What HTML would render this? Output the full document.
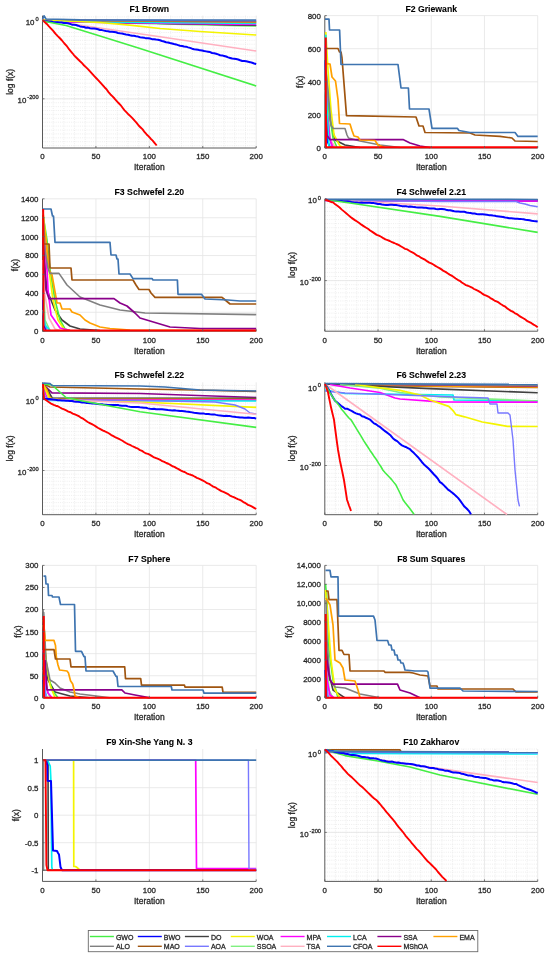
<!DOCTYPE html>
<html><head><meta charset="utf-8"><style>
html,body{margin:0;padding:0;background:#fff;width:550px;height:958px;overflow:hidden}
svg{display:block;will-change:transform}
text{font-family:"Liberation Sans", sans-serif;stroke:#262626;stroke-width:0.28px}
</style></head><body>
<svg width="550" height="958" viewBox="0 0 550 958">
<rect x="0" y="0" width="550" height="958" fill="#ffffff"/>
<line x1="53.19" y1="15.6" x2="53.19" y2="148" stroke="#e2e2e2" stroke-width="0.6" stroke-dasharray="1,1.2"/>
<line x1="63.87" y1="15.6" x2="63.87" y2="148" stroke="#e2e2e2" stroke-width="0.6" stroke-dasharray="1,1.2"/>
<line x1="74.55" y1="15.6" x2="74.55" y2="148" stroke="#e2e2e2" stroke-width="0.6" stroke-dasharray="1,1.2"/>
<line x1="85.24" y1="15.6" x2="85.24" y2="148" stroke="#e2e2e2" stroke-width="0.6" stroke-dasharray="1,1.2"/>
<line x1="106.61" y1="15.6" x2="106.61" y2="148" stroke="#e2e2e2" stroke-width="0.6" stroke-dasharray="1,1.2"/>
<line x1="117.29" y1="15.6" x2="117.29" y2="148" stroke="#e2e2e2" stroke-width="0.6" stroke-dasharray="1,1.2"/>
<line x1="127.98" y1="15.6" x2="127.98" y2="148" stroke="#e2e2e2" stroke-width="0.6" stroke-dasharray="1,1.2"/>
<line x1="138.66" y1="15.6" x2="138.66" y2="148" stroke="#e2e2e2" stroke-width="0.6" stroke-dasharray="1,1.2"/>
<line x1="160.03" y1="15.6" x2="160.03" y2="148" stroke="#e2e2e2" stroke-width="0.6" stroke-dasharray="1,1.2"/>
<line x1="170.72" y1="15.6" x2="170.72" y2="148" stroke="#e2e2e2" stroke-width="0.6" stroke-dasharray="1,1.2"/>
<line x1="181.41" y1="15.6" x2="181.41" y2="148" stroke="#e2e2e2" stroke-width="0.6" stroke-dasharray="1,1.2"/>
<line x1="192.09" y1="15.6" x2="192.09" y2="148" stroke="#e2e2e2" stroke-width="0.6" stroke-dasharray="1,1.2"/>
<line x1="213.46" y1="15.6" x2="213.46" y2="148" stroke="#e2e2e2" stroke-width="0.6" stroke-dasharray="1,1.2"/>
<line x1="224.14" y1="15.6" x2="224.14" y2="148" stroke="#e2e2e2" stroke-width="0.6" stroke-dasharray="1,1.2"/>
<line x1="234.83" y1="15.6" x2="234.83" y2="148" stroke="#e2e2e2" stroke-width="0.6" stroke-dasharray="1,1.2"/>
<line x1="245.51" y1="15.6" x2="245.51" y2="148" stroke="#e2e2e2" stroke-width="0.6" stroke-dasharray="1,1.2"/>
<line x1="42.5" y1="16.9" x2="256.2" y2="16.9" stroke="#e2e2e2" stroke-width="0.6" stroke-dasharray="1,1.2"/>
<line x1="42.5" y1="20.8" x2="256.2" y2="20.8" stroke="#e2e2e2" stroke-width="0.6" stroke-dasharray="1,1.2"/>
<line x1="42.5" y1="24.7" x2="256.2" y2="24.7" stroke="#e2e2e2" stroke-width="0.6" stroke-dasharray="1,1.2"/>
<line x1="42.5" y1="28.6" x2="256.2" y2="28.6" stroke="#e2e2e2" stroke-width="0.6" stroke-dasharray="1,1.2"/>
<line x1="42.5" y1="32.5" x2="256.2" y2="32.5" stroke="#e2e2e2" stroke-width="0.6" stroke-dasharray="1,1.2"/>
<line x1="42.5" y1="36.4" x2="256.2" y2="36.4" stroke="#e2e2e2" stroke-width="0.6" stroke-dasharray="1,1.2"/>
<line x1="42.5" y1="40.3" x2="256.2" y2="40.3" stroke="#e2e2e2" stroke-width="0.6" stroke-dasharray="1,1.2"/>
<line x1="42.5" y1="44.2" x2="256.2" y2="44.2" stroke="#e2e2e2" stroke-width="0.6" stroke-dasharray="1,1.2"/>
<line x1="42.5" y1="48.1" x2="256.2" y2="48.1" stroke="#e2e2e2" stroke-width="0.6" stroke-dasharray="1,1.2"/>
<line x1="42.5" y1="52" x2="256.2" y2="52" stroke="#e2e2e2" stroke-width="0.6" stroke-dasharray="1,1.2"/>
<line x1="42.5" y1="55.9" x2="256.2" y2="55.9" stroke="#e2e2e2" stroke-width="0.6" stroke-dasharray="1,1.2"/>
<line x1="42.5" y1="59.8" x2="256.2" y2="59.8" stroke="#e2e2e2" stroke-width="0.6" stroke-dasharray="1,1.2"/>
<line x1="42.5" y1="63.7" x2="256.2" y2="63.7" stroke="#e2e2e2" stroke-width="0.6" stroke-dasharray="1,1.2"/>
<line x1="42.5" y1="67.6" x2="256.2" y2="67.6" stroke="#e2e2e2" stroke-width="0.6" stroke-dasharray="1,1.2"/>
<line x1="42.5" y1="71.5" x2="256.2" y2="71.5" stroke="#e2e2e2" stroke-width="0.6" stroke-dasharray="1,1.2"/>
<line x1="42.5" y1="75.4" x2="256.2" y2="75.4" stroke="#e2e2e2" stroke-width="0.6" stroke-dasharray="1,1.2"/>
<line x1="42.5" y1="79.3" x2="256.2" y2="79.3" stroke="#e2e2e2" stroke-width="0.6" stroke-dasharray="1,1.2"/>
<line x1="42.5" y1="83.2" x2="256.2" y2="83.2" stroke="#e2e2e2" stroke-width="0.6" stroke-dasharray="1,1.2"/>
<line x1="42.5" y1="87.1" x2="256.2" y2="87.1" stroke="#e2e2e2" stroke-width="0.6" stroke-dasharray="1,1.2"/>
<line x1="42.5" y1="91" x2="256.2" y2="91" stroke="#e2e2e2" stroke-width="0.6" stroke-dasharray="1,1.2"/>
<line x1="42.5" y1="94.9" x2="256.2" y2="94.9" stroke="#e2e2e2" stroke-width="0.6" stroke-dasharray="1,1.2"/>
<line x1="42.5" y1="98.8" x2="256.2" y2="98.8" stroke="#e2e2e2" stroke-width="0.6" stroke-dasharray="1,1.2"/>
<line x1="42.5" y1="102.7" x2="256.2" y2="102.7" stroke="#e2e2e2" stroke-width="0.6" stroke-dasharray="1,1.2"/>
<line x1="42.5" y1="106.6" x2="256.2" y2="106.6" stroke="#e2e2e2" stroke-width="0.6" stroke-dasharray="1,1.2"/>
<line x1="42.5" y1="110.5" x2="256.2" y2="110.5" stroke="#e2e2e2" stroke-width="0.6" stroke-dasharray="1,1.2"/>
<line x1="42.5" y1="114.4" x2="256.2" y2="114.4" stroke="#e2e2e2" stroke-width="0.6" stroke-dasharray="1,1.2"/>
<line x1="42.5" y1="118.3" x2="256.2" y2="118.3" stroke="#e2e2e2" stroke-width="0.6" stroke-dasharray="1,1.2"/>
<line x1="42.5" y1="122.2" x2="256.2" y2="122.2" stroke="#e2e2e2" stroke-width="0.6" stroke-dasharray="1,1.2"/>
<line x1="42.5" y1="126.1" x2="256.2" y2="126.1" stroke="#e2e2e2" stroke-width="0.6" stroke-dasharray="1,1.2"/>
<line x1="42.5" y1="130" x2="256.2" y2="130" stroke="#e2e2e2" stroke-width="0.6" stroke-dasharray="1,1.2"/>
<line x1="42.5" y1="133.9" x2="256.2" y2="133.9" stroke="#e2e2e2" stroke-width="0.6" stroke-dasharray="1,1.2"/>
<line x1="42.5" y1="137.8" x2="256.2" y2="137.8" stroke="#e2e2e2" stroke-width="0.6" stroke-dasharray="1,1.2"/>
<line x1="42.5" y1="141.7" x2="256.2" y2="141.7" stroke="#e2e2e2" stroke-width="0.6" stroke-dasharray="1,1.2"/>
<line x1="42.5" y1="145.6" x2="256.2" y2="145.6" stroke="#e2e2e2" stroke-width="0.6" stroke-dasharray="1,1.2"/>
<line x1="95.92" y1="15.6" x2="95.92" y2="148" stroke="#e4e4e4" stroke-width="0.8"/>
<line x1="149.35" y1="15.6" x2="149.35" y2="148" stroke="#e4e4e4" stroke-width="0.8"/>
<line x1="202.77" y1="15.6" x2="202.77" y2="148" stroke="#e4e4e4" stroke-width="0.8"/>
<line x1="256.2" y1="15.6" x2="256.2" y2="148" stroke="#e4e4e4" stroke-width="0.8"/>
<line x1="42.5" y1="20.8" x2="256.2" y2="20.8" stroke="#e4e4e4" stroke-width="0.8"/>
<line x1="42.5" y1="98.8" x2="256.2" y2="98.8" stroke="#e4e4e4" stroke-width="0.8"/>
<path d="M42.5,15.6 V148 H256.2" fill="none" stroke="#5a5a5a" stroke-width="1"/>
<polyline points="42.5,21 256.2,26.2" fill="none" stroke="#80f080" stroke-width="1.6" stroke-linejoin="round" stroke-linecap="butt"/>
<polyline points="42.5,21 256.2,25.2" fill="none" stroke="#8a008a" stroke-width="1.7" stroke-linejoin="round" stroke-linecap="butt"/>
<polyline points="42.5,21 256.2,25.3" fill="none" stroke="#404040" stroke-width="1.6" stroke-linejoin="round" stroke-linecap="butt"/>
<polyline points="42.5,21 70,21.8 256.2,24.4" fill="none" stroke="#ff00ff" stroke-width="1.7" stroke-linejoin="round" stroke-linecap="butt"/>
<polyline points="42.5,20.5 100,22 256.2,23.4" fill="none" stroke="#00f0f0" stroke-width="1.7" stroke-linejoin="round" stroke-linecap="butt"/>
<polyline points="42.5,20 256.2,22.5" fill="none" stroke="#808080" stroke-width="1.6" stroke-linejoin="round" stroke-linecap="butt"/>
<polyline points="42.5,20 256.2,21.9" fill="none" stroke="#ffa000" stroke-width="1.7" stroke-linejoin="round" stroke-linecap="butt"/>
<polyline points="42.5,20 256.2,21.4" fill="none" stroke="#a05510" stroke-width="1.7" stroke-linejoin="round" stroke-linecap="butt"/>
<polyline points="42.5,20 256.2,20.7" fill="none" stroke="#7878ff" stroke-width="1.4" stroke-linejoin="round" stroke-linecap="butt"/>
<polyline points="42.5,20 100,22.5 132,25.3 160,28.5 200,31.5 256.2,35" fill="none" stroke="#f4f400" stroke-width="1.7" stroke-linejoin="round" stroke-linecap="butt"/>
<polyline points="42.5,21 60,22.2 160,36.7 256.2,51" fill="none" stroke="#ffb0c0" stroke-width="1.6" stroke-linejoin="round" stroke-linecap="butt"/>
<polyline points="42.5,21 44.64,21.1 46.77,21.14 48.91,21.6 51.05,21.56 53.18,21.95 55.32,22.16 57.45,22.16 59.59,22.56 61.73,22.57 63.86,22.94 66,23 68,23.3 70,23.86 72,24.63 74,24.76 76,25.05 78,25.67 80,26.41 82,26.76 84,26.99 86,27.68 88,27.61 90,28.28 92,28.44 94,28.58 96,28.81 98,29.23 100,29.99 102,30.12 104,30.61 106,31.09 108,31.33 110,31.73 112,31.77 114,31.93 116,32.27 118,32.95 120,33.31 122,33.59 124,34.09 126,34.43 128,34.67 130,35.29 132,35.74 134,35.83 136,36.26 138,36.61 140,37.21 142,37.61 144,37.67 146,38.34 148,38.27 150,38.58 152,39.14 154,39.19 156,39.6 158,39.67 160,40.29 162,41.01 164.01,41.5 166.01,42.21 168.02,42.44 170.02,43.04 172.03,43.52 174.03,44 176.03,44.4 178.04,45.1 180.04,45.79 182.05,46.08 184.05,46.58 186.05,46.65 188.06,47.34 190.06,47.91 192.07,48.69 194.07,49.24 196.07,49.39 198.08,49.74 200.08,50.35 202.09,50.46 204.09,51.03 206.1,51.37 208.1,51.73 210.1,52.1 212.11,53.02 214.11,53.31 216.12,53.77 218.12,54.35 220.12,55.22 222.13,55.39 224.13,55.95 226.14,56.55 228.14,57.34 230.15,57.97 232.15,58.57 234.15,58.72 236.16,59.1 238.16,59.49 240.17,60.28 242.17,61.01 244.17,61.08 246.18,61.33 248.18,61.72 250.19,62.15 252.19,62.78 254.2,63.43 256.2,64" fill="none" stroke="#0000ff" stroke-width="2.0" stroke-linejoin="round" stroke-linecap="butt"/>
<polyline points="42.5,21 66,25.5 100,36 140,48.5 256.2,86" fill="none" stroke="#44ee44" stroke-width="1.6" stroke-linejoin="round" stroke-linecap="butt"/>
<polyline points="42.5,19.5 44,15.8 46,19 80,19.8 256.2,20" fill="none" stroke="#3e74b0" stroke-width="1.7" stroke-linejoin="round" stroke-linecap="butt"/>
<polyline points="42.5,20 44.64,22.03 46.79,23.93 48.93,26.3 51.08,28.56 53.22,30.97 55.37,33.61 57.51,35.87 59.66,37.98 61.8,40.22 64.2,43.27 66.6,45.81 69,49.2 71.25,51.85 73.5,54.51 75.75,57.04 78,59.24 80.04,61.26 82.08,63.12 84.12,65.54 86.16,67.41 88.2,69.42 90.23,71.64 92.27,73.83 94.3,76.17 96.33,78.23 98.37,80.32 100.4,82.58 102.43,84.78 104.47,87.21 106.5,89.28 108.51,92.09 110.52,94.45 112.52,96.39 114.53,98.52 116.54,100.76 118.55,103.01 120.56,105.05 122.56,107.75 124.57,110.37 126.58,112.4 128.59,114.53 130.6,116.37 132.6,118.38 134.61,120.67 136.62,122.86 138.63,125.52 140.64,127.47 142.64,129.42 144.65,132.21 146.66,134.44 148.67,136.36 150.68,138.72 152.68,140.61 154.69,143.03 156.7,145.5" fill="none" stroke="#ff0000" stroke-width="1.9" stroke-linejoin="round" stroke-linecap="butt"/>
<line x1="42.5" y1="148" x2="42.5" y2="146" stroke="#5a5a5a" stroke-width="0.8"/>
<text x="42.5" y="159.3" font-size="7.9" text-anchor="middle" fill="#262626">0</text>
<line x1="95.92" y1="148" x2="95.92" y2="146" stroke="#5a5a5a" stroke-width="0.8"/>
<text x="95.92" y="159.3" font-size="7.9" text-anchor="middle" fill="#262626">50</text>
<line x1="149.35" y1="148" x2="149.35" y2="146" stroke="#5a5a5a" stroke-width="0.8"/>
<text x="149.35" y="159.3" font-size="7.9" text-anchor="middle" fill="#262626">100</text>
<line x1="202.77" y1="148" x2="202.77" y2="146" stroke="#5a5a5a" stroke-width="0.8"/>
<text x="202.77" y="159.3" font-size="7.9" text-anchor="middle" fill="#262626">150</text>
<line x1="256.2" y1="148" x2="256.2" y2="146" stroke="#5a5a5a" stroke-width="0.8"/>
<text x="256.2" y="159.3" font-size="7.9" text-anchor="middle" fill="#262626">200</text>
<line x1="42.5" y1="20.8" x2="44.5" y2="20.8" stroke="#5a5a5a" stroke-width="0.8"/>
<text x="38.7" y="25" font-size="7.9" text-anchor="end" fill="#262626">10<tspan font-size="5.7" dx="1" dy="-3.6">0</tspan></text>
<line x1="42.5" y1="98.8" x2="44.5" y2="98.8" stroke="#5a5a5a" stroke-width="0.8"/>
<text x="38.7" y="103" font-size="7.9" text-anchor="end" fill="#262626">10<tspan font-size="5.7" dx="1" dy="-3.6">-200</tspan></text>
<text x="149.35" y="170.4" font-size="8.5" text-anchor="middle" fill="#262626">Iteration</text>
<text x="149.35" y="11.7" font-size="8.7" font-weight="bold" text-anchor="middle" fill="#000" style="stroke:#000;stroke-width:0.08px">F1 Brown</text>
<text transform="translate(12.5,81.8) rotate(-90)" font-size="8.5" text-anchor="middle" fill="#262626">log f(x)</text>
<line x1="378.03" y1="15.6" x2="378.03" y2="148" stroke="#e4e4e4" stroke-width="0.8"/>
<line x1="431.25" y1="15.6" x2="431.25" y2="148" stroke="#e4e4e4" stroke-width="0.8"/>
<line x1="484.48" y1="15.6" x2="484.48" y2="148" stroke="#e4e4e4" stroke-width="0.8"/>
<line x1="537.7" y1="15.6" x2="537.7" y2="148" stroke="#e4e4e4" stroke-width="0.8"/>
<line x1="324.8" y1="148" x2="537.7" y2="148" stroke="#e4e4e4" stroke-width="0.8"/>
<line x1="324.8" y1="114.9" x2="537.7" y2="114.9" stroke="#e4e4e4" stroke-width="0.8"/>
<line x1="324.8" y1="81.8" x2="537.7" y2="81.8" stroke="#e4e4e4" stroke-width="0.8"/>
<line x1="324.8" y1="48.7" x2="537.7" y2="48.7" stroke="#e4e4e4" stroke-width="0.8"/>
<line x1="324.8" y1="15.6" x2="537.7" y2="15.6" stroke="#e4e4e4" stroke-width="0.8"/>
<path d="M324.8,15.6 V148 H537.7" fill="none" stroke="#5a5a5a" stroke-width="1"/>
<polyline points="325.8,80 330,120 335,140 345,145 360,147.5" fill="none" stroke="#404040" stroke-width="1.6" stroke-linejoin="round" stroke-linecap="butt"/>
<polyline points="325.5,80 328,130 332,147.5" fill="none" stroke="#7878ff" stroke-width="1.4" stroke-linejoin="round" stroke-linecap="butt"/>
<polyline points="325.5,70 330,140 335,147.5" fill="none" stroke="#80f080" stroke-width="1.6" stroke-linejoin="round" stroke-linecap="butt"/>
<polyline points="325.5,90 328,135 335,147.5" fill="none" stroke="#ffb0c0" stroke-width="1.6" stroke-linejoin="round" stroke-linecap="butt"/>
<polyline points="325.5,60 327,140 330,147.5" fill="none" stroke="#0000ff" stroke-width="2.0" stroke-linejoin="round" stroke-linecap="butt"/>
<polyline points="325.5,60 329,110 333,138 337,147.5" fill="none" stroke="#44ee44" stroke-width="1.6" stroke-linejoin="round" stroke-linecap="butt"/>
<polyline points="325.5,45 327,110 330,140 333,147.5" fill="none" stroke="#ff00ff" stroke-width="1.7" stroke-linejoin="round" stroke-linecap="butt"/>
<polyline points="325.8,32 328,70 331,110 334,135 340,146 345,147.5" fill="none" stroke="#f4f400" stroke-width="1.7" stroke-linejoin="round" stroke-linecap="butt"/>
<polyline points="325.8,34.7 326.5,100 329,147.5" fill="none" stroke="#00f0f0" stroke-width="1.7" stroke-linejoin="round" stroke-linecap="butt"/>
<polyline points="325.8,70 328,90 331,125 333,128.5 345,128.5 347,135 348.5,138 360,141 380,145 400,147.5" fill="none" stroke="#808080" stroke-width="1.6" stroke-linejoin="round" stroke-linecap="butt"/>
<polyline points="325.8,110 327,135.4 330,139.6 403,139.6 410,143 420,146 430,147.5" fill="none" stroke="#8a008a" stroke-width="1.7" stroke-linejoin="round" stroke-linecap="butt"/>
<polyline points="325.8,64 327,63.6 330,64 332,77 335.5,81 338,99.5 339.5,123.5 350,124 352,130.5 354,136 358,137 360,140 375,140.5 378,145 385,147.5" fill="none" stroke="#ffa000" stroke-width="1.7" stroke-linejoin="round" stroke-linecap="butt"/>
<polyline points="325,48.5 338,48.5 339.5,52 341,52 342,58 346.5,115.6 416,117 419,126 423,126 425,132.5 470,133 475,135 500,136.4 512,138 515,141 537.7,141.5" fill="none" stroke="#a05510" stroke-width="1.7" stroke-linejoin="round" stroke-linecap="butt"/>
<polyline points="325,19.2 329,19.2 329.5,30 339.6,30 341,64.5 398,64.5 401,88 408.4,88 409.5,109 429,109 432,128.4 457.5,128.4 459,130.5 470,132.5 515,132.5 518,136.4 537.7,136.4" fill="none" stroke="#3e74b0" stroke-width="1.7" stroke-linejoin="round" stroke-linecap="butt"/>
<polyline points="325.8,37.5 326,147.2 537.7,147.2" fill="none" stroke="#ff0000" stroke-width="1.9" stroke-linejoin="round" stroke-linecap="butt"/>
<line x1="324.8" y1="148" x2="324.8" y2="146" stroke="#5a5a5a" stroke-width="0.8"/>
<text x="324.8" y="159.3" font-size="7.9" text-anchor="middle" fill="#262626">0</text>
<line x1="378.03" y1="148" x2="378.03" y2="146" stroke="#5a5a5a" stroke-width="0.8"/>
<text x="378.03" y="159.3" font-size="7.9" text-anchor="middle" fill="#262626">50</text>
<line x1="431.25" y1="148" x2="431.25" y2="146" stroke="#5a5a5a" stroke-width="0.8"/>
<text x="431.25" y="159.3" font-size="7.9" text-anchor="middle" fill="#262626">100</text>
<line x1="484.48" y1="148" x2="484.48" y2="146" stroke="#5a5a5a" stroke-width="0.8"/>
<text x="484.48" y="159.3" font-size="7.9" text-anchor="middle" fill="#262626">150</text>
<line x1="537.7" y1="148" x2="537.7" y2="146" stroke="#5a5a5a" stroke-width="0.8"/>
<text x="537.7" y="159.3" font-size="7.9" text-anchor="middle" fill="#262626">200</text>
<line x1="324.8" y1="148" x2="326.8" y2="148" stroke="#5a5a5a" stroke-width="0.8"/>
<text x="320.8" y="150.9" font-size="7.9" text-anchor="end" fill="#262626">0</text>
<line x1="324.8" y1="114.9" x2="326.8" y2="114.9" stroke="#5a5a5a" stroke-width="0.8"/>
<text x="320.8" y="117.8" font-size="7.9" text-anchor="end" fill="#262626">200</text>
<line x1="324.8" y1="81.8" x2="326.8" y2="81.8" stroke="#5a5a5a" stroke-width="0.8"/>
<text x="320.8" y="84.7" font-size="7.9" text-anchor="end" fill="#262626">400</text>
<line x1="324.8" y1="48.7" x2="326.8" y2="48.7" stroke="#5a5a5a" stroke-width="0.8"/>
<text x="320.8" y="51.6" font-size="7.9" text-anchor="end" fill="#262626">600</text>
<line x1="324.8" y1="15.6" x2="326.8" y2="15.6" stroke="#5a5a5a" stroke-width="0.8"/>
<text x="320.8" y="18.5" font-size="7.9" text-anchor="end" fill="#262626">800</text>
<text x="431.25" y="170.4" font-size="8.5" text-anchor="middle" fill="#262626">Iteration</text>
<text x="431.25" y="11.7" font-size="8.7" font-weight="bold" text-anchor="middle" fill="#000" style="stroke:#000;stroke-width:0.08px">F2 Griewank</text>
<text transform="translate(303.3,81.8) rotate(-90)" font-size="8.5" text-anchor="middle" fill="#262626">f(x)</text>
<line x1="95.92" y1="198.8" x2="95.92" y2="331.2" stroke="#e4e4e4" stroke-width="0.8"/>
<line x1="149.35" y1="198.8" x2="149.35" y2="331.2" stroke="#e4e4e4" stroke-width="0.8"/>
<line x1="202.77" y1="198.8" x2="202.77" y2="331.2" stroke="#e4e4e4" stroke-width="0.8"/>
<line x1="256.2" y1="198.8" x2="256.2" y2="331.2" stroke="#e4e4e4" stroke-width="0.8"/>
<line x1="42.5" y1="331.2" x2="256.2" y2="331.2" stroke="#e4e4e4" stroke-width="0.8"/>
<line x1="42.5" y1="312.29" x2="256.2" y2="312.29" stroke="#e4e4e4" stroke-width="0.8"/>
<line x1="42.5" y1="293.37" x2="256.2" y2="293.37" stroke="#e4e4e4" stroke-width="0.8"/>
<line x1="42.5" y1="274.46" x2="256.2" y2="274.46" stroke="#e4e4e4" stroke-width="0.8"/>
<line x1="42.5" y1="255.54" x2="256.2" y2="255.54" stroke="#e4e4e4" stroke-width="0.8"/>
<line x1="42.5" y1="236.63" x2="256.2" y2="236.63" stroke="#e4e4e4" stroke-width="0.8"/>
<line x1="42.5" y1="217.71" x2="256.2" y2="217.71" stroke="#e4e4e4" stroke-width="0.8"/>
<line x1="42.5" y1="198.8" x2="256.2" y2="198.8" stroke="#e4e4e4" stroke-width="0.8"/>
<path d="M42.5,198.8 V331.2 H256.2" fill="none" stroke="#5a5a5a" stroke-width="1"/>
<polyline points="43,300 44,325 46,330.5" fill="none" stroke="#0000ff" stroke-width="2.0" stroke-linejoin="round" stroke-linecap="butt"/>
<polyline points="43,280 44,320 47,330.5" fill="none" stroke="#7878ff" stroke-width="1.4" stroke-linejoin="round" stroke-linecap="butt"/>
<polyline points="43,270 45,320 50,330.5" fill="none" stroke="#80f080" stroke-width="1.6" stroke-linejoin="round" stroke-linecap="butt"/>
<polyline points="43,260 44,290 49,318 55,329 60,330.5" fill="none" stroke="#ffb0c0" stroke-width="1.6" stroke-linejoin="round" stroke-linecap="butt"/>
<polyline points="43,310 45,325 50,330.5" fill="none" stroke="#00f0f0" stroke-width="1.7" stroke-linejoin="round" stroke-linecap="butt"/>
<polyline points="43,230 45,270 47,290 55,310 62,320 70,326 80,329 100,330.5" fill="none" stroke="#404040" stroke-width="1.6" stroke-linejoin="round" stroke-linecap="butt"/>
<polyline points="43,215 47,240 50,270 55,300 60,320 65,329 70,330.5" fill="none" stroke="#44ee44" stroke-width="1.6" stroke-linejoin="round" stroke-linecap="butt"/>
<polyline points="43,212 46,240 49,270 53,300 58,320 64,329 70,330.5" fill="none" stroke="#f4f400" stroke-width="1.7" stroke-linejoin="round" stroke-linecap="butt"/>
<polyline points="43,220 46,260 47,270 48,290 51,315 60,328 70,330.5" fill="none" stroke="#ff00ff" stroke-width="1.7" stroke-linejoin="round" stroke-linecap="butt"/>
<polyline points="43,220 46,240 49,270 52,275 57,303 60,303 62,309 70,309 72,312 80,315 85,320 90,323 100,327 110,328.5 130,330 256.2,330.5" fill="none" stroke="#ffa000" stroke-width="1.7" stroke-linejoin="round" stroke-linecap="butt"/>
<polyline points="43,210 45,250 48,268 50,273.4 59,273.4 67,285 80,297 100,305 120,310 145,313 256.2,314.6" fill="none" stroke="#808080" stroke-width="1.6" stroke-linejoin="round" stroke-linecap="butt"/>
<polyline points="43,240 46,290 49,298.6 114,298.6 120,303 127,306 135,313 140,318 150,321 170,327 200,328.5 256.2,328.6" fill="none" stroke="#8a008a" stroke-width="1.7" stroke-linejoin="round" stroke-linecap="butt"/>
<polyline points="43,215 43.5,244 49,244 50,268 71,268 72,280 133,280 136,285 139,289.5 149,289.5 151,293 155,297.3 222,297.3 224,299 230,304 256.2,304" fill="none" stroke="#a05510" stroke-width="1.7" stroke-linejoin="round" stroke-linecap="butt"/>
<polyline points="42.5,209 51,209 52.5,216 53.5,216 55,242.4 110,242.4 111,255 116,255 117,259 118,259 119,274 130,274 133,278.6 152,278.6 153,280 177.4,280 178,294.3 201.5,294.3 205,299 228,300 240,301 256.2,301" fill="none" stroke="#3e74b0" stroke-width="1.7" stroke-linejoin="round" stroke-linecap="butt"/>
<polyline points="43.2,209 43.6,330.5 256.2,330.5" fill="none" stroke="#ff0000" stroke-width="1.9" stroke-linejoin="round" stroke-linecap="butt"/>
<line x1="42.5" y1="331.2" x2="42.5" y2="329.2" stroke="#5a5a5a" stroke-width="0.8"/>
<text x="42.5" y="342.5" font-size="7.9" text-anchor="middle" fill="#262626">0</text>
<line x1="95.92" y1="331.2" x2="95.92" y2="329.2" stroke="#5a5a5a" stroke-width="0.8"/>
<text x="95.92" y="342.5" font-size="7.9" text-anchor="middle" fill="#262626">50</text>
<line x1="149.35" y1="331.2" x2="149.35" y2="329.2" stroke="#5a5a5a" stroke-width="0.8"/>
<text x="149.35" y="342.5" font-size="7.9" text-anchor="middle" fill="#262626">100</text>
<line x1="202.77" y1="331.2" x2="202.77" y2="329.2" stroke="#5a5a5a" stroke-width="0.8"/>
<text x="202.77" y="342.5" font-size="7.9" text-anchor="middle" fill="#262626">150</text>
<line x1="256.2" y1="331.2" x2="256.2" y2="329.2" stroke="#5a5a5a" stroke-width="0.8"/>
<text x="256.2" y="342.5" font-size="7.9" text-anchor="middle" fill="#262626">200</text>
<line x1="42.5" y1="331.2" x2="44.5" y2="331.2" stroke="#5a5a5a" stroke-width="0.8"/>
<text x="38.5" y="334.1" font-size="7.9" text-anchor="end" fill="#262626">0</text>
<line x1="42.5" y1="312.29" x2="44.5" y2="312.29" stroke="#5a5a5a" stroke-width="0.8"/>
<text x="38.5" y="315.19" font-size="7.9" text-anchor="end" fill="#262626">200</text>
<line x1="42.5" y1="293.37" x2="44.5" y2="293.37" stroke="#5a5a5a" stroke-width="0.8"/>
<text x="38.5" y="296.27" font-size="7.9" text-anchor="end" fill="#262626">400</text>
<line x1="42.5" y1="274.46" x2="44.5" y2="274.46" stroke="#5a5a5a" stroke-width="0.8"/>
<text x="38.5" y="277.36" font-size="7.9" text-anchor="end" fill="#262626">600</text>
<line x1="42.5" y1="255.54" x2="44.5" y2="255.54" stroke="#5a5a5a" stroke-width="0.8"/>
<text x="38.5" y="258.44" font-size="7.9" text-anchor="end" fill="#262626">800</text>
<line x1="42.5" y1="236.63" x2="44.5" y2="236.63" stroke="#5a5a5a" stroke-width="0.8"/>
<text x="38.5" y="239.53" font-size="7.9" text-anchor="end" fill="#262626">1000</text>
<line x1="42.5" y1="217.71" x2="44.5" y2="217.71" stroke="#5a5a5a" stroke-width="0.8"/>
<text x="38.5" y="220.61" font-size="7.9" text-anchor="end" fill="#262626">1200</text>
<line x1="42.5" y1="198.8" x2="44.5" y2="198.8" stroke="#5a5a5a" stroke-width="0.8"/>
<text x="38.5" y="201.7" font-size="7.9" text-anchor="end" fill="#262626">1400</text>
<text x="149.35" y="353.6" font-size="8.5" text-anchor="middle" fill="#262626">Iteration</text>
<text x="149.35" y="194.9" font-size="8.7" font-weight="bold" text-anchor="middle" fill="#000" style="stroke:#000;stroke-width:0.08px">F3 Schwefel 2.20</text>
<text transform="translate(17.8,265) rotate(-90)" font-size="8.5" text-anchor="middle" fill="#262626">f(x)</text>
<line x1="335.44" y1="198.8" x2="335.44" y2="331.2" stroke="#e2e2e2" stroke-width="0.6" stroke-dasharray="1,1.2"/>
<line x1="346.09" y1="198.8" x2="346.09" y2="331.2" stroke="#e2e2e2" stroke-width="0.6" stroke-dasharray="1,1.2"/>
<line x1="356.74" y1="198.8" x2="356.74" y2="331.2" stroke="#e2e2e2" stroke-width="0.6" stroke-dasharray="1,1.2"/>
<line x1="367.38" y1="198.8" x2="367.38" y2="331.2" stroke="#e2e2e2" stroke-width="0.6" stroke-dasharray="1,1.2"/>
<line x1="388.67" y1="198.8" x2="388.67" y2="331.2" stroke="#e2e2e2" stroke-width="0.6" stroke-dasharray="1,1.2"/>
<line x1="399.32" y1="198.8" x2="399.32" y2="331.2" stroke="#e2e2e2" stroke-width="0.6" stroke-dasharray="1,1.2"/>
<line x1="409.96" y1="198.8" x2="409.96" y2="331.2" stroke="#e2e2e2" stroke-width="0.6" stroke-dasharray="1,1.2"/>
<line x1="420.61" y1="198.8" x2="420.61" y2="331.2" stroke="#e2e2e2" stroke-width="0.6" stroke-dasharray="1,1.2"/>
<line x1="441.9" y1="198.8" x2="441.9" y2="331.2" stroke="#e2e2e2" stroke-width="0.6" stroke-dasharray="1,1.2"/>
<line x1="452.54" y1="198.8" x2="452.54" y2="331.2" stroke="#e2e2e2" stroke-width="0.6" stroke-dasharray="1,1.2"/>
<line x1="463.19" y1="198.8" x2="463.19" y2="331.2" stroke="#e2e2e2" stroke-width="0.6" stroke-dasharray="1,1.2"/>
<line x1="473.83" y1="198.8" x2="473.83" y2="331.2" stroke="#e2e2e2" stroke-width="0.6" stroke-dasharray="1,1.2"/>
<line x1="495.12" y1="198.8" x2="495.12" y2="331.2" stroke="#e2e2e2" stroke-width="0.6" stroke-dasharray="1,1.2"/>
<line x1="505.77" y1="198.8" x2="505.77" y2="331.2" stroke="#e2e2e2" stroke-width="0.6" stroke-dasharray="1,1.2"/>
<line x1="516.41" y1="198.8" x2="516.41" y2="331.2" stroke="#e2e2e2" stroke-width="0.6" stroke-dasharray="1,1.2"/>
<line x1="527.06" y1="198.8" x2="527.06" y2="331.2" stroke="#e2e2e2" stroke-width="0.6" stroke-dasharray="1,1.2"/>
<line x1="324.8" y1="199.2" x2="537.7" y2="199.2" stroke="#e2e2e2" stroke-width="0.6" stroke-dasharray="1,1.2"/>
<line x1="324.8" y1="203.27" x2="537.7" y2="203.27" stroke="#e2e2e2" stroke-width="0.6" stroke-dasharray="1,1.2"/>
<line x1="324.8" y1="207.34" x2="537.7" y2="207.34" stroke="#e2e2e2" stroke-width="0.6" stroke-dasharray="1,1.2"/>
<line x1="324.8" y1="211.41" x2="537.7" y2="211.41" stroke="#e2e2e2" stroke-width="0.6" stroke-dasharray="1,1.2"/>
<line x1="324.8" y1="215.48" x2="537.7" y2="215.48" stroke="#e2e2e2" stroke-width="0.6" stroke-dasharray="1,1.2"/>
<line x1="324.8" y1="219.55" x2="537.7" y2="219.55" stroke="#e2e2e2" stroke-width="0.6" stroke-dasharray="1,1.2"/>
<line x1="324.8" y1="223.62" x2="537.7" y2="223.62" stroke="#e2e2e2" stroke-width="0.6" stroke-dasharray="1,1.2"/>
<line x1="324.8" y1="227.69" x2="537.7" y2="227.69" stroke="#e2e2e2" stroke-width="0.6" stroke-dasharray="1,1.2"/>
<line x1="324.8" y1="231.76" x2="537.7" y2="231.76" stroke="#e2e2e2" stroke-width="0.6" stroke-dasharray="1,1.2"/>
<line x1="324.8" y1="235.83" x2="537.7" y2="235.83" stroke="#e2e2e2" stroke-width="0.6" stroke-dasharray="1,1.2"/>
<line x1="324.8" y1="239.9" x2="537.7" y2="239.9" stroke="#e2e2e2" stroke-width="0.6" stroke-dasharray="1,1.2"/>
<line x1="324.8" y1="243.97" x2="537.7" y2="243.97" stroke="#e2e2e2" stroke-width="0.6" stroke-dasharray="1,1.2"/>
<line x1="324.8" y1="248.04" x2="537.7" y2="248.04" stroke="#e2e2e2" stroke-width="0.6" stroke-dasharray="1,1.2"/>
<line x1="324.8" y1="252.11" x2="537.7" y2="252.11" stroke="#e2e2e2" stroke-width="0.6" stroke-dasharray="1,1.2"/>
<line x1="324.8" y1="256.18" x2="537.7" y2="256.18" stroke="#e2e2e2" stroke-width="0.6" stroke-dasharray="1,1.2"/>
<line x1="324.8" y1="260.25" x2="537.7" y2="260.25" stroke="#e2e2e2" stroke-width="0.6" stroke-dasharray="1,1.2"/>
<line x1="324.8" y1="264.32" x2="537.7" y2="264.32" stroke="#e2e2e2" stroke-width="0.6" stroke-dasharray="1,1.2"/>
<line x1="324.8" y1="268.39" x2="537.7" y2="268.39" stroke="#e2e2e2" stroke-width="0.6" stroke-dasharray="1,1.2"/>
<line x1="324.8" y1="272.46" x2="537.7" y2="272.46" stroke="#e2e2e2" stroke-width="0.6" stroke-dasharray="1,1.2"/>
<line x1="324.8" y1="276.53" x2="537.7" y2="276.53" stroke="#e2e2e2" stroke-width="0.6" stroke-dasharray="1,1.2"/>
<line x1="324.8" y1="280.6" x2="537.7" y2="280.6" stroke="#e2e2e2" stroke-width="0.6" stroke-dasharray="1,1.2"/>
<line x1="324.8" y1="284.67" x2="537.7" y2="284.67" stroke="#e2e2e2" stroke-width="0.6" stroke-dasharray="1,1.2"/>
<line x1="324.8" y1="288.74" x2="537.7" y2="288.74" stroke="#e2e2e2" stroke-width="0.6" stroke-dasharray="1,1.2"/>
<line x1="324.8" y1="292.81" x2="537.7" y2="292.81" stroke="#e2e2e2" stroke-width="0.6" stroke-dasharray="1,1.2"/>
<line x1="324.8" y1="296.88" x2="537.7" y2="296.88" stroke="#e2e2e2" stroke-width="0.6" stroke-dasharray="1,1.2"/>
<line x1="324.8" y1="300.95" x2="537.7" y2="300.95" stroke="#e2e2e2" stroke-width="0.6" stroke-dasharray="1,1.2"/>
<line x1="324.8" y1="305.02" x2="537.7" y2="305.02" stroke="#e2e2e2" stroke-width="0.6" stroke-dasharray="1,1.2"/>
<line x1="324.8" y1="309.09" x2="537.7" y2="309.09" stroke="#e2e2e2" stroke-width="0.6" stroke-dasharray="1,1.2"/>
<line x1="324.8" y1="313.16" x2="537.7" y2="313.16" stroke="#e2e2e2" stroke-width="0.6" stroke-dasharray="1,1.2"/>
<line x1="324.8" y1="317.23" x2="537.7" y2="317.23" stroke="#e2e2e2" stroke-width="0.6" stroke-dasharray="1,1.2"/>
<line x1="324.8" y1="321.3" x2="537.7" y2="321.3" stroke="#e2e2e2" stroke-width="0.6" stroke-dasharray="1,1.2"/>
<line x1="324.8" y1="325.37" x2="537.7" y2="325.37" stroke="#e2e2e2" stroke-width="0.6" stroke-dasharray="1,1.2"/>
<line x1="324.8" y1="329.44" x2="537.7" y2="329.44" stroke="#e2e2e2" stroke-width="0.6" stroke-dasharray="1,1.2"/>
<line x1="378.03" y1="198.8" x2="378.03" y2="331.2" stroke="#e4e4e4" stroke-width="0.8"/>
<line x1="431.25" y1="198.8" x2="431.25" y2="331.2" stroke="#e4e4e4" stroke-width="0.8"/>
<line x1="484.48" y1="198.8" x2="484.48" y2="331.2" stroke="#e4e4e4" stroke-width="0.8"/>
<line x1="537.7" y1="198.8" x2="537.7" y2="331.2" stroke="#e4e4e4" stroke-width="0.8"/>
<line x1="324.8" y1="199.2" x2="537.7" y2="199.2" stroke="#e4e4e4" stroke-width="0.8"/>
<line x1="324.8" y1="280.6" x2="537.7" y2="280.6" stroke="#e4e4e4" stroke-width="0.8"/>
<path d="M324.8,198.8 V331.2 H537.7" fill="none" stroke="#5a5a5a" stroke-width="1"/>
<polyline points="325,199.8 537.7,200" fill="none" stroke="#a05510" stroke-width="1.7" stroke-linejoin="round" stroke-linecap="butt"/>
<polyline points="325,199.8 537.7,200.2" fill="none" stroke="#808080" stroke-width="1.6" stroke-linejoin="round" stroke-linecap="butt"/>
<polyline points="325,199.8 537.7,200.2" fill="none" stroke="#404040" stroke-width="1.6" stroke-linejoin="round" stroke-linecap="butt"/>
<polyline points="325,200 515,200.3 537.7,200.8" fill="none" stroke="#00f0f0" stroke-width="1.7" stroke-linejoin="round" stroke-linecap="butt"/>
<polyline points="325,200.5 537.7,201" fill="none" stroke="#8a008a" stroke-width="1.7" stroke-linejoin="round" stroke-linecap="butt"/>
<polyline points="325,200.5 537.7,201" fill="none" stroke="#ff00ff" stroke-width="1.7" stroke-linejoin="round" stroke-linecap="butt"/>
<polyline points="325,200 440,201.5 516,201.5 520,203 525,204 530,205.5 537.7,206.8" fill="none" stroke="#7878ff" stroke-width="1.4" stroke-linejoin="round" stroke-linecap="butt"/>
<polyline points="325,199.5 440,206 537.7,213.9" fill="none" stroke="#ffb0c0" stroke-width="1.6" stroke-linejoin="round" stroke-linecap="butt"/>
<polyline points="325,199.5 327.04,199.95 329.07,200.22 331.11,200.35 333.15,200.23 335.19,200.29 337.22,200.28 339.26,200.7 341.3,200.87 343.33,201.19 345.37,201.18 347.41,201.17 349.44,201.59 351.48,202.01 353.52,202.25 355.56,202.44 357.59,202.62 359.63,202.75 361.67,202.59 363.7,202.73 365.74,202.78 367.78,202.69 369.81,202.7 371.85,202.92 373.89,203.11 375.93,203.55 377.96,204.03 380,204.09 382,204.48 384,204.82 386,205.06 388,204.92 390,204.82 392,204.83 394,204.88 396,204.98 398,205.37 400,205.83 402,206.13 404,206.17 406,206.36 408,206.63 410,206.43 412,206.72 414,207.11 416,207.34 418,207.52 420,207.53 422,207.43 424,207.8 426,207.81 428,208.17 430,208.55 432,208.5 434,208.54 436,208.96 438,209.14 440,208.99 442.04,209.03 444.07,209.17 446.11,209.82 448.14,210.25 450.18,210.21 452.21,210.7 454.25,211.2 456.28,211.4 458.32,211.45 460.35,211.69 462.39,211.7 464.43,211.73 466.46,212.43 468.5,212.76 470.53,212.99 472.57,213.48 474.6,213.57 476.64,214 478.67,214.33 480.71,214.26 482.74,214.35 484.78,214.54 486.81,214.72 488.85,215.14 490.89,215.3 492.92,215.6 494.96,215.7 496.99,216.34 499.03,216.49 501.06,216.75 503.1,217.09 505.13,217.58 507.17,217.7 509.2,218.17 511.24,218.3 513.28,218.51 515.31,218.73 517.35,218.66 519.38,218.98 521.42,219.12 523.45,219.2 525.49,219.83 527.52,219.94 529.56,220.29 531.59,220.75 533.63,221.03 535.66,221.17 537.7,221.5" fill="none" stroke="#0000ff" stroke-width="2.0" stroke-linejoin="round" stroke-linecap="butt"/>
<polyline points="325,199.5 350,203 440,216.4 537.7,232.4" fill="none" stroke="#44ee44" stroke-width="1.6" stroke-linejoin="round" stroke-linecap="butt"/>
<polyline points="325,199.3 537.7,199.5" fill="none" stroke="#3e74b0" stroke-width="1.7" stroke-linejoin="round" stroke-linecap="butt"/>
<polyline points="325,199.5 327,200.26 329,201.05 331,201.98 333,202.36 335.2,204.23 337.4,205.85 339.6,207.55 341.8,209.62 343.98,211.38 346.16,213.18 348.34,215.1 350.52,217.06 352.7,218.61 354.88,220.13 357.06,221.57 359.24,223.04 361.42,224.67 363.6,226.08 365.78,227.45 367.97,228.79 370.15,230.48 372.33,231.87 374.52,233.38 376.7,234.89 378.89,235.64 381.07,236.77 383.26,238.17 385.44,239.41 387.63,240.12 389.81,241 392,242.21 394.19,243 396.37,244 398.56,244.89 400.74,246.24 402.93,247.54 405.11,248.81 407.3,249.45 409.3,250.77 411.3,251.98 413.3,252.81 415.3,254.28 417.3,255.69 419.3,256.47 421.3,257.91 423.3,258.84 425.3,259.93 427.3,261.39 429.3,262.62 431.3,263.34 433.33,264.55 435.37,265.84 437.4,267.01 439.43,268.11 441.47,269.37 443.5,270.92 445.53,271.86 447.57,273.31 449.6,274.62 451.63,275.61 453.67,276.93 455.7,278.44 457.73,279.78 459.77,280.78 461.8,282.53 463.84,283.79 465.88,285.11 467.92,285.74 469.96,286.68 472,287.52 474.04,288.99 476.08,289.95 478.12,290.88 480.16,292.08 482.2,293.59 484.24,294.87 486.28,295.69 488.32,296.55 490.36,298.04 492.4,299.14 494.46,300.51 496.52,301.42 498.58,302.46 500.64,304.04 502.7,305.31 504.75,306.35 506.81,308.09 508.87,309.44 510.93,310.88 512.99,311.75 515.05,313.33 517.11,314.24 519.17,315.86 521.23,317.06 523.29,318.21 525.35,319.57 527.4,321.16 529.46,322.17 531.52,323.19 533.58,324.59 535.64,325.75 537.7,327.3" fill="none" stroke="#ff0000" stroke-width="1.9" stroke-linejoin="round" stroke-linecap="butt"/>
<line x1="324.8" y1="331.2" x2="324.8" y2="329.2" stroke="#5a5a5a" stroke-width="0.8"/>
<text x="324.8" y="342.5" font-size="7.9" text-anchor="middle" fill="#262626">0</text>
<line x1="378.03" y1="331.2" x2="378.03" y2="329.2" stroke="#5a5a5a" stroke-width="0.8"/>
<text x="378.03" y="342.5" font-size="7.9" text-anchor="middle" fill="#262626">50</text>
<line x1="431.25" y1="331.2" x2="431.25" y2="329.2" stroke="#5a5a5a" stroke-width="0.8"/>
<text x="431.25" y="342.5" font-size="7.9" text-anchor="middle" fill="#262626">100</text>
<line x1="484.48" y1="331.2" x2="484.48" y2="329.2" stroke="#5a5a5a" stroke-width="0.8"/>
<text x="484.48" y="342.5" font-size="7.9" text-anchor="middle" fill="#262626">150</text>
<line x1="537.7" y1="331.2" x2="537.7" y2="329.2" stroke="#5a5a5a" stroke-width="0.8"/>
<text x="537.7" y="342.5" font-size="7.9" text-anchor="middle" fill="#262626">200</text>
<line x1="324.8" y1="199.2" x2="326.8" y2="199.2" stroke="#5a5a5a" stroke-width="0.8"/>
<text x="321" y="203.4" font-size="7.9" text-anchor="end" fill="#262626">10<tspan font-size="5.7" dx="1" dy="-3.6">0</tspan></text>
<line x1="324.8" y1="280.6" x2="326.8" y2="280.6" stroke="#5a5a5a" stroke-width="0.8"/>
<text x="321" y="284.8" font-size="7.9" text-anchor="end" fill="#262626">10<tspan font-size="5.7" dx="1" dy="-3.6">-200</tspan></text>
<text x="431.25" y="353.6" font-size="8.5" text-anchor="middle" fill="#262626">Iteration</text>
<text x="431.25" y="194.9" font-size="8.7" font-weight="bold" text-anchor="middle" fill="#000" style="stroke:#000;stroke-width:0.08px">F4 Schwefel 2.21</text>
<text transform="translate(294.8,265) rotate(-90)" font-size="8.5" text-anchor="middle" fill="#262626">log f(x)</text>
<line x1="53.19" y1="382.3" x2="53.19" y2="514.7" stroke="#e2e2e2" stroke-width="0.6" stroke-dasharray="1,1.2"/>
<line x1="63.87" y1="382.3" x2="63.87" y2="514.7" stroke="#e2e2e2" stroke-width="0.6" stroke-dasharray="1,1.2"/>
<line x1="74.55" y1="382.3" x2="74.55" y2="514.7" stroke="#e2e2e2" stroke-width="0.6" stroke-dasharray="1,1.2"/>
<line x1="85.24" y1="382.3" x2="85.24" y2="514.7" stroke="#e2e2e2" stroke-width="0.6" stroke-dasharray="1,1.2"/>
<line x1="106.61" y1="382.3" x2="106.61" y2="514.7" stroke="#e2e2e2" stroke-width="0.6" stroke-dasharray="1,1.2"/>
<line x1="117.29" y1="382.3" x2="117.29" y2="514.7" stroke="#e2e2e2" stroke-width="0.6" stroke-dasharray="1,1.2"/>
<line x1="127.98" y1="382.3" x2="127.98" y2="514.7" stroke="#e2e2e2" stroke-width="0.6" stroke-dasharray="1,1.2"/>
<line x1="138.66" y1="382.3" x2="138.66" y2="514.7" stroke="#e2e2e2" stroke-width="0.6" stroke-dasharray="1,1.2"/>
<line x1="160.03" y1="382.3" x2="160.03" y2="514.7" stroke="#e2e2e2" stroke-width="0.6" stroke-dasharray="1,1.2"/>
<line x1="170.72" y1="382.3" x2="170.72" y2="514.7" stroke="#e2e2e2" stroke-width="0.6" stroke-dasharray="1,1.2"/>
<line x1="181.41" y1="382.3" x2="181.41" y2="514.7" stroke="#e2e2e2" stroke-width="0.6" stroke-dasharray="1,1.2"/>
<line x1="192.09" y1="382.3" x2="192.09" y2="514.7" stroke="#e2e2e2" stroke-width="0.6" stroke-dasharray="1,1.2"/>
<line x1="213.46" y1="382.3" x2="213.46" y2="514.7" stroke="#e2e2e2" stroke-width="0.6" stroke-dasharray="1,1.2"/>
<line x1="224.14" y1="382.3" x2="224.14" y2="514.7" stroke="#e2e2e2" stroke-width="0.6" stroke-dasharray="1,1.2"/>
<line x1="234.83" y1="382.3" x2="234.83" y2="514.7" stroke="#e2e2e2" stroke-width="0.6" stroke-dasharray="1,1.2"/>
<line x1="245.51" y1="382.3" x2="245.51" y2="514.7" stroke="#e2e2e2" stroke-width="0.6" stroke-dasharray="1,1.2"/>
<line x1="42.5" y1="385.4" x2="256.2" y2="385.4" stroke="#e2e2e2" stroke-width="0.6" stroke-dasharray="1,1.2"/>
<line x1="42.5" y1="388.95" x2="256.2" y2="388.95" stroke="#e2e2e2" stroke-width="0.6" stroke-dasharray="1,1.2"/>
<line x1="42.5" y1="392.5" x2="256.2" y2="392.5" stroke="#e2e2e2" stroke-width="0.6" stroke-dasharray="1,1.2"/>
<line x1="42.5" y1="396.05" x2="256.2" y2="396.05" stroke="#e2e2e2" stroke-width="0.6" stroke-dasharray="1,1.2"/>
<line x1="42.5" y1="399.6" x2="256.2" y2="399.6" stroke="#e2e2e2" stroke-width="0.6" stroke-dasharray="1,1.2"/>
<line x1="42.5" y1="403.15" x2="256.2" y2="403.15" stroke="#e2e2e2" stroke-width="0.6" stroke-dasharray="1,1.2"/>
<line x1="42.5" y1="406.7" x2="256.2" y2="406.7" stroke="#e2e2e2" stroke-width="0.6" stroke-dasharray="1,1.2"/>
<line x1="42.5" y1="410.25" x2="256.2" y2="410.25" stroke="#e2e2e2" stroke-width="0.6" stroke-dasharray="1,1.2"/>
<line x1="42.5" y1="413.8" x2="256.2" y2="413.8" stroke="#e2e2e2" stroke-width="0.6" stroke-dasharray="1,1.2"/>
<line x1="42.5" y1="417.35" x2="256.2" y2="417.35" stroke="#e2e2e2" stroke-width="0.6" stroke-dasharray="1,1.2"/>
<line x1="42.5" y1="420.9" x2="256.2" y2="420.9" stroke="#e2e2e2" stroke-width="0.6" stroke-dasharray="1,1.2"/>
<line x1="42.5" y1="424.45" x2="256.2" y2="424.45" stroke="#e2e2e2" stroke-width="0.6" stroke-dasharray="1,1.2"/>
<line x1="42.5" y1="428" x2="256.2" y2="428" stroke="#e2e2e2" stroke-width="0.6" stroke-dasharray="1,1.2"/>
<line x1="42.5" y1="431.55" x2="256.2" y2="431.55" stroke="#e2e2e2" stroke-width="0.6" stroke-dasharray="1,1.2"/>
<line x1="42.5" y1="435.1" x2="256.2" y2="435.1" stroke="#e2e2e2" stroke-width="0.6" stroke-dasharray="1,1.2"/>
<line x1="42.5" y1="438.65" x2="256.2" y2="438.65" stroke="#e2e2e2" stroke-width="0.6" stroke-dasharray="1,1.2"/>
<line x1="42.5" y1="442.2" x2="256.2" y2="442.2" stroke="#e2e2e2" stroke-width="0.6" stroke-dasharray="1,1.2"/>
<line x1="42.5" y1="445.75" x2="256.2" y2="445.75" stroke="#e2e2e2" stroke-width="0.6" stroke-dasharray="1,1.2"/>
<line x1="42.5" y1="449.3" x2="256.2" y2="449.3" stroke="#e2e2e2" stroke-width="0.6" stroke-dasharray="1,1.2"/>
<line x1="42.5" y1="452.85" x2="256.2" y2="452.85" stroke="#e2e2e2" stroke-width="0.6" stroke-dasharray="1,1.2"/>
<line x1="42.5" y1="456.4" x2="256.2" y2="456.4" stroke="#e2e2e2" stroke-width="0.6" stroke-dasharray="1,1.2"/>
<line x1="42.5" y1="459.95" x2="256.2" y2="459.95" stroke="#e2e2e2" stroke-width="0.6" stroke-dasharray="1,1.2"/>
<line x1="42.5" y1="463.5" x2="256.2" y2="463.5" stroke="#e2e2e2" stroke-width="0.6" stroke-dasharray="1,1.2"/>
<line x1="42.5" y1="467.05" x2="256.2" y2="467.05" stroke="#e2e2e2" stroke-width="0.6" stroke-dasharray="1,1.2"/>
<line x1="42.5" y1="470.6" x2="256.2" y2="470.6" stroke="#e2e2e2" stroke-width="0.6" stroke-dasharray="1,1.2"/>
<line x1="42.5" y1="474.15" x2="256.2" y2="474.15" stroke="#e2e2e2" stroke-width="0.6" stroke-dasharray="1,1.2"/>
<line x1="42.5" y1="477.7" x2="256.2" y2="477.7" stroke="#e2e2e2" stroke-width="0.6" stroke-dasharray="1,1.2"/>
<line x1="42.5" y1="481.25" x2="256.2" y2="481.25" stroke="#e2e2e2" stroke-width="0.6" stroke-dasharray="1,1.2"/>
<line x1="42.5" y1="484.8" x2="256.2" y2="484.8" stroke="#e2e2e2" stroke-width="0.6" stroke-dasharray="1,1.2"/>
<line x1="42.5" y1="488.35" x2="256.2" y2="488.35" stroke="#e2e2e2" stroke-width="0.6" stroke-dasharray="1,1.2"/>
<line x1="42.5" y1="491.9" x2="256.2" y2="491.9" stroke="#e2e2e2" stroke-width="0.6" stroke-dasharray="1,1.2"/>
<line x1="42.5" y1="495.45" x2="256.2" y2="495.45" stroke="#e2e2e2" stroke-width="0.6" stroke-dasharray="1,1.2"/>
<line x1="42.5" y1="499" x2="256.2" y2="499" stroke="#e2e2e2" stroke-width="0.6" stroke-dasharray="1,1.2"/>
<line x1="42.5" y1="502.55" x2="256.2" y2="502.55" stroke="#e2e2e2" stroke-width="0.6" stroke-dasharray="1,1.2"/>
<line x1="42.5" y1="506.1" x2="256.2" y2="506.1" stroke="#e2e2e2" stroke-width="0.6" stroke-dasharray="1,1.2"/>
<line x1="42.5" y1="509.65" x2="256.2" y2="509.65" stroke="#e2e2e2" stroke-width="0.6" stroke-dasharray="1,1.2"/>
<line x1="42.5" y1="513.2" x2="256.2" y2="513.2" stroke="#e2e2e2" stroke-width="0.6" stroke-dasharray="1,1.2"/>
<line x1="95.92" y1="382.3" x2="95.92" y2="514.7" stroke="#e4e4e4" stroke-width="0.8"/>
<line x1="149.35" y1="382.3" x2="149.35" y2="514.7" stroke="#e4e4e4" stroke-width="0.8"/>
<line x1="202.77" y1="382.3" x2="202.77" y2="514.7" stroke="#e4e4e4" stroke-width="0.8"/>
<line x1="256.2" y1="382.3" x2="256.2" y2="514.7" stroke="#e4e4e4" stroke-width="0.8"/>
<line x1="42.5" y1="399.6" x2="256.2" y2="399.6" stroke="#e4e4e4" stroke-width="0.8"/>
<line x1="42.5" y1="470.5" x2="256.2" y2="470.5" stroke="#e4e4e4" stroke-width="0.8"/>
<path d="M42.5,382.3 V514.7 H256.2" fill="none" stroke="#5a5a5a" stroke-width="1"/>
<polyline points="43,399 256.2,400" fill="none" stroke="#80f080" stroke-width="1.6" stroke-linejoin="round" stroke-linecap="butt"/>
<polyline points="43,384 48,386 50,387 140,389 195,390 256.2,391.5" fill="none" stroke="#a05510" stroke-width="1.7" stroke-linejoin="round" stroke-linecap="butt"/>
<polyline points="43,385 47,388 52,392.9 140,393.5 256.2,397.5" fill="none" stroke="#8a008a" stroke-width="1.7" stroke-linejoin="round" stroke-linecap="butt"/>
<polyline points="43,384 50,395 53,398.6 256.2,398.6" fill="none" stroke="#808080" stroke-width="1.6" stroke-linejoin="round" stroke-linecap="butt"/>
<polyline points="43,384 48,390 52,398 256.2,398.2" fill="none" stroke="#404040" stroke-width="1.6" stroke-linejoin="round" stroke-linecap="butt"/>
<polyline points="43,384 47,390 50,398 53,399.4 218,399.4 256.2,399.6" fill="none" stroke="#ffa000" stroke-width="1.7" stroke-linejoin="round" stroke-linecap="butt"/>
<polyline points="43,384 46,395 48,400 256.2,400" fill="none" stroke="#ff00ff" stroke-width="1.7" stroke-linejoin="round" stroke-linecap="butt"/>
<polyline points="43,388 45,399 50,400.5 256.2,401" fill="none" stroke="#00f0f0" stroke-width="1.7" stroke-linejoin="round" stroke-linecap="butt"/>
<polyline points="43,384 49,398 60,400 140,402 256.2,407.3" fill="none" stroke="#f4f400" stroke-width="1.7" stroke-linejoin="round" stroke-linecap="butt"/>
<polyline points="43,395 50,400 140,400.5 215,402 235,405 245,409 250,413 256.2,414" fill="none" stroke="#7878ff" stroke-width="1.4" stroke-linejoin="round" stroke-linecap="butt"/>
<polyline points="43,399 140,403 256.2,414.3" fill="none" stroke="#ffb0c0" stroke-width="1.6" stroke-linejoin="round" stroke-linecap="butt"/>
<polyline points="43,399 45.12,398.95 47.25,399.03 49.38,399.09 51.5,399.29 53.62,399.55 55.75,399.77 57.88,400.26 60,400.34 62,400.58 64,400.6 66,400.78 68,400.77 70,400.96 72,401.01 74,401.54 76,401.82 78,401.84 80,402.09 82,402.59 84,402.46 86,402.88 88,402.98 90,403.14 92,403.51 94,403.54 96,403.69 98,403.96 100,404.37 102,404.3 104,404.63 106,404.81 108,404.96 110,404.97 112,405.02 114,404.94 116,405.01 118,405.08 120,405.6 122,405.69 124,405.76 126,405.82 128,406.38 130,406.81 132,407.01 134,406.97 136,406.99 138,407.11 140,407.34 142,407.39 144.01,407.67 146.01,407.81 148.01,408.38 150.02,408.81 152.02,408.89 154.02,408.83 156.03,409.3 158.03,409.27 160.03,409.36 162.04,409.27 164.04,409.53 166.04,409.81 168.05,410.07 170.05,410.13 172.06,410.42 174.06,410.37 176.06,410.57 178.07,410.67 180.07,410.99 182.07,411.04 184.08,411.14 186.08,411.44 188.08,411.66 190.09,412.07 192.09,412.37 194.09,412.75 196.1,413 198.1,413.27 200.1,413.6 202.11,413.58 204.11,413.61 206.11,414.1 208.12,413.97 210.12,414.31 212.12,414.54 214.13,414.4 216.13,414.86 218.13,415.25 220.14,415.41 222.14,415.64 224.14,415.9 226.15,415.73 228.15,415.94 230.16,416.12 232.16,416.51 234.16,416.8 236.17,417.07 238.17,417.16 240.17,417.47 242.18,417.61 244.18,417.78 246.18,417.68 248.19,417.57 250.19,417.65 252.19,417.91 254.2,417.99 256.2,418.6" fill="none" stroke="#0000ff" stroke-width="2.0" stroke-linejoin="round" stroke-linecap="butt"/>
<polyline points="43,384 52,385 66,397.5 80,400.5 140,411.7 256.2,427.4" fill="none" stroke="#44ee44" stroke-width="1.6" stroke-linejoin="round" stroke-linecap="butt"/>
<polyline points="42.5,384 44,383 50,383.5 52,385.5 140,386 165,387 200,390 256.2,391" fill="none" stroke="#3e74b0" stroke-width="1.7" stroke-linejoin="round" stroke-linecap="butt"/>
<polyline points="43,384 44,398.74 46.53,400.42 49.07,402.17 51.6,403.91 53.69,404.89 55.77,405.73 57.86,406.27 59.94,407.52 62.03,408.62 64.11,409.48 66.2,410.4 68.38,411.55 70.57,412.27 72.75,413.6 74.93,414.49 77.12,415.33 79.3,416.4 81.4,417.93 83.5,418.97 85.6,420.45 87.7,421.99 89.8,423.06 91.9,424.11 94,425.29 96.1,426.62 98.2,427.97 100.38,429.17 102.56,430.41 104.74,431.24 106.92,432.28 109.1,433.48 111.28,435.03 113.46,436.14 115.64,437.49 117.82,438.4 120,439.47 122,440.52 124,441.83 126,443.03 128,444.14 130,444.94 132,445.98 134,446.96 136,447.95 138,448.7 140,450.1 142,450.85 144,452.24 146,453.45 148,453.93 150,454.93 152.04,456.18 154.08,457.44 156.12,458.23 158.15,458.97 160.19,459.78 162.23,461.18 164.27,461.91 166.31,463 168.35,463.75 170.38,464.87 172.42,466.24 174.46,466.88 176.5,468.16 178.54,469.1 180.58,470.33 182.62,471.34 184.65,472.02 186.69,473.29 188.73,474.16 190.77,474.77 192.81,475.51 194.85,476.7 196.88,477.79 198.92,478.73 200.96,479.59 203,480.64 205.05,481.73 207.09,483.19 209.14,483.9 211.18,485.29 213.23,486.61 215.28,487.33 217.32,488.76 219.37,489.9 221.42,491.14 223.46,491.89 225.51,492.83 227.55,493.84 229.6,495.3 231.65,496.32 233.69,497.2 235.74,498.21 237.78,499.14 239.83,499.97 241.88,500.93 243.92,502.45 245.97,503.42 248.02,504.88 250.06,505.7 252.11,506.64 254.15,507.81 256.2,509" fill="none" stroke="#ff0000" stroke-width="1.9" stroke-linejoin="round" stroke-linecap="butt"/>
<line x1="42.5" y1="514.7" x2="42.5" y2="512.7" stroke="#5a5a5a" stroke-width="0.8"/>
<text x="42.5" y="526" font-size="7.9" text-anchor="middle" fill="#262626">0</text>
<line x1="95.92" y1="514.7" x2="95.92" y2="512.7" stroke="#5a5a5a" stroke-width="0.8"/>
<text x="95.92" y="526" font-size="7.9" text-anchor="middle" fill="#262626">50</text>
<line x1="149.35" y1="514.7" x2="149.35" y2="512.7" stroke="#5a5a5a" stroke-width="0.8"/>
<text x="149.35" y="526" font-size="7.9" text-anchor="middle" fill="#262626">100</text>
<line x1="202.77" y1="514.7" x2="202.77" y2="512.7" stroke="#5a5a5a" stroke-width="0.8"/>
<text x="202.77" y="526" font-size="7.9" text-anchor="middle" fill="#262626">150</text>
<line x1="256.2" y1="514.7" x2="256.2" y2="512.7" stroke="#5a5a5a" stroke-width="0.8"/>
<text x="256.2" y="526" font-size="7.9" text-anchor="middle" fill="#262626">200</text>
<line x1="42.5" y1="399.6" x2="44.5" y2="399.6" stroke="#5a5a5a" stroke-width="0.8"/>
<text x="38.7" y="403.8" font-size="7.9" text-anchor="end" fill="#262626">10<tspan font-size="5.7" dx="1" dy="-3.6">0</tspan></text>
<line x1="42.5" y1="470.5" x2="44.5" y2="470.5" stroke="#5a5a5a" stroke-width="0.8"/>
<text x="38.7" y="474.7" font-size="7.9" text-anchor="end" fill="#262626">10<tspan font-size="5.7" dx="1" dy="-3.6">-200</tspan></text>
<text x="149.35" y="537.1" font-size="8.5" text-anchor="middle" fill="#262626">Iteration</text>
<text x="149.35" y="378.4" font-size="8.7" font-weight="bold" text-anchor="middle" fill="#000" style="stroke:#000;stroke-width:0.08px">F5 Schwefel 2.22</text>
<text transform="translate(12.5,448.5) rotate(-90)" font-size="8.5" text-anchor="middle" fill="#262626">log f(x)</text>
<line x1="335.44" y1="382.3" x2="335.44" y2="514.7" stroke="#e2e2e2" stroke-width="0.6" stroke-dasharray="1,1.2"/>
<line x1="346.09" y1="382.3" x2="346.09" y2="514.7" stroke="#e2e2e2" stroke-width="0.6" stroke-dasharray="1,1.2"/>
<line x1="356.74" y1="382.3" x2="356.74" y2="514.7" stroke="#e2e2e2" stroke-width="0.6" stroke-dasharray="1,1.2"/>
<line x1="367.38" y1="382.3" x2="367.38" y2="514.7" stroke="#e2e2e2" stroke-width="0.6" stroke-dasharray="1,1.2"/>
<line x1="388.67" y1="382.3" x2="388.67" y2="514.7" stroke="#e2e2e2" stroke-width="0.6" stroke-dasharray="1,1.2"/>
<line x1="399.32" y1="382.3" x2="399.32" y2="514.7" stroke="#e2e2e2" stroke-width="0.6" stroke-dasharray="1,1.2"/>
<line x1="409.96" y1="382.3" x2="409.96" y2="514.7" stroke="#e2e2e2" stroke-width="0.6" stroke-dasharray="1,1.2"/>
<line x1="420.61" y1="382.3" x2="420.61" y2="514.7" stroke="#e2e2e2" stroke-width="0.6" stroke-dasharray="1,1.2"/>
<line x1="441.9" y1="382.3" x2="441.9" y2="514.7" stroke="#e2e2e2" stroke-width="0.6" stroke-dasharray="1,1.2"/>
<line x1="452.54" y1="382.3" x2="452.54" y2="514.7" stroke="#e2e2e2" stroke-width="0.6" stroke-dasharray="1,1.2"/>
<line x1="463.19" y1="382.3" x2="463.19" y2="514.7" stroke="#e2e2e2" stroke-width="0.6" stroke-dasharray="1,1.2"/>
<line x1="473.83" y1="382.3" x2="473.83" y2="514.7" stroke="#e2e2e2" stroke-width="0.6" stroke-dasharray="1,1.2"/>
<line x1="495.12" y1="382.3" x2="495.12" y2="514.7" stroke="#e2e2e2" stroke-width="0.6" stroke-dasharray="1,1.2"/>
<line x1="505.77" y1="382.3" x2="505.77" y2="514.7" stroke="#e2e2e2" stroke-width="0.6" stroke-dasharray="1,1.2"/>
<line x1="516.41" y1="382.3" x2="516.41" y2="514.7" stroke="#e2e2e2" stroke-width="0.6" stroke-dasharray="1,1.2"/>
<line x1="527.06" y1="382.3" x2="527.06" y2="514.7" stroke="#e2e2e2" stroke-width="0.6" stroke-dasharray="1,1.2"/>
<line x1="324.8" y1="382.55" x2="537.7" y2="382.55" stroke="#e2e2e2" stroke-width="0.6" stroke-dasharray="1,1.2"/>
<line x1="324.8" y1="386.5" x2="537.7" y2="386.5" stroke="#e2e2e2" stroke-width="0.6" stroke-dasharray="1,1.2"/>
<line x1="324.8" y1="390.45" x2="537.7" y2="390.45" stroke="#e2e2e2" stroke-width="0.6" stroke-dasharray="1,1.2"/>
<line x1="324.8" y1="394.4" x2="537.7" y2="394.4" stroke="#e2e2e2" stroke-width="0.6" stroke-dasharray="1,1.2"/>
<line x1="324.8" y1="398.35" x2="537.7" y2="398.35" stroke="#e2e2e2" stroke-width="0.6" stroke-dasharray="1,1.2"/>
<line x1="324.8" y1="402.3" x2="537.7" y2="402.3" stroke="#e2e2e2" stroke-width="0.6" stroke-dasharray="1,1.2"/>
<line x1="324.8" y1="406.25" x2="537.7" y2="406.25" stroke="#e2e2e2" stroke-width="0.6" stroke-dasharray="1,1.2"/>
<line x1="324.8" y1="410.2" x2="537.7" y2="410.2" stroke="#e2e2e2" stroke-width="0.6" stroke-dasharray="1,1.2"/>
<line x1="324.8" y1="414.15" x2="537.7" y2="414.15" stroke="#e2e2e2" stroke-width="0.6" stroke-dasharray="1,1.2"/>
<line x1="324.8" y1="418.1" x2="537.7" y2="418.1" stroke="#e2e2e2" stroke-width="0.6" stroke-dasharray="1,1.2"/>
<line x1="324.8" y1="422.05" x2="537.7" y2="422.05" stroke="#e2e2e2" stroke-width="0.6" stroke-dasharray="1,1.2"/>
<line x1="324.8" y1="426" x2="537.7" y2="426" stroke="#e2e2e2" stroke-width="0.6" stroke-dasharray="1,1.2"/>
<line x1="324.8" y1="429.95" x2="537.7" y2="429.95" stroke="#e2e2e2" stroke-width="0.6" stroke-dasharray="1,1.2"/>
<line x1="324.8" y1="433.9" x2="537.7" y2="433.9" stroke="#e2e2e2" stroke-width="0.6" stroke-dasharray="1,1.2"/>
<line x1="324.8" y1="437.85" x2="537.7" y2="437.85" stroke="#e2e2e2" stroke-width="0.6" stroke-dasharray="1,1.2"/>
<line x1="324.8" y1="441.8" x2="537.7" y2="441.8" stroke="#e2e2e2" stroke-width="0.6" stroke-dasharray="1,1.2"/>
<line x1="324.8" y1="445.75" x2="537.7" y2="445.75" stroke="#e2e2e2" stroke-width="0.6" stroke-dasharray="1,1.2"/>
<line x1="324.8" y1="449.7" x2="537.7" y2="449.7" stroke="#e2e2e2" stroke-width="0.6" stroke-dasharray="1,1.2"/>
<line x1="324.8" y1="453.65" x2="537.7" y2="453.65" stroke="#e2e2e2" stroke-width="0.6" stroke-dasharray="1,1.2"/>
<line x1="324.8" y1="457.6" x2="537.7" y2="457.6" stroke="#e2e2e2" stroke-width="0.6" stroke-dasharray="1,1.2"/>
<line x1="324.8" y1="461.55" x2="537.7" y2="461.55" stroke="#e2e2e2" stroke-width="0.6" stroke-dasharray="1,1.2"/>
<line x1="324.8" y1="465.5" x2="537.7" y2="465.5" stroke="#e2e2e2" stroke-width="0.6" stroke-dasharray="1,1.2"/>
<line x1="324.8" y1="469.45" x2="537.7" y2="469.45" stroke="#e2e2e2" stroke-width="0.6" stroke-dasharray="1,1.2"/>
<line x1="324.8" y1="473.4" x2="537.7" y2="473.4" stroke="#e2e2e2" stroke-width="0.6" stroke-dasharray="1,1.2"/>
<line x1="324.8" y1="477.35" x2="537.7" y2="477.35" stroke="#e2e2e2" stroke-width="0.6" stroke-dasharray="1,1.2"/>
<line x1="324.8" y1="481.3" x2="537.7" y2="481.3" stroke="#e2e2e2" stroke-width="0.6" stroke-dasharray="1,1.2"/>
<line x1="324.8" y1="485.25" x2="537.7" y2="485.25" stroke="#e2e2e2" stroke-width="0.6" stroke-dasharray="1,1.2"/>
<line x1="324.8" y1="489.2" x2="537.7" y2="489.2" stroke="#e2e2e2" stroke-width="0.6" stroke-dasharray="1,1.2"/>
<line x1="324.8" y1="493.15" x2="537.7" y2="493.15" stroke="#e2e2e2" stroke-width="0.6" stroke-dasharray="1,1.2"/>
<line x1="324.8" y1="497.1" x2="537.7" y2="497.1" stroke="#e2e2e2" stroke-width="0.6" stroke-dasharray="1,1.2"/>
<line x1="324.8" y1="501.05" x2="537.7" y2="501.05" stroke="#e2e2e2" stroke-width="0.6" stroke-dasharray="1,1.2"/>
<line x1="324.8" y1="505" x2="537.7" y2="505" stroke="#e2e2e2" stroke-width="0.6" stroke-dasharray="1,1.2"/>
<line x1="324.8" y1="508.95" x2="537.7" y2="508.95" stroke="#e2e2e2" stroke-width="0.6" stroke-dasharray="1,1.2"/>
<line x1="324.8" y1="512.9" x2="537.7" y2="512.9" stroke="#e2e2e2" stroke-width="0.6" stroke-dasharray="1,1.2"/>
<line x1="378.03" y1="382.3" x2="378.03" y2="514.7" stroke="#e4e4e4" stroke-width="0.8"/>
<line x1="431.25" y1="382.3" x2="431.25" y2="514.7" stroke="#e4e4e4" stroke-width="0.8"/>
<line x1="484.48" y1="382.3" x2="484.48" y2="514.7" stroke="#e4e4e4" stroke-width="0.8"/>
<line x1="537.7" y1="382.3" x2="537.7" y2="514.7" stroke="#e4e4e4" stroke-width="0.8"/>
<line x1="324.8" y1="386.5" x2="537.7" y2="386.5" stroke="#e4e4e4" stroke-width="0.8"/>
<line x1="324.8" y1="465.5" x2="537.7" y2="465.5" stroke="#e4e4e4" stroke-width="0.8"/>
<path d="M324.8,382.3 V514.7 H537.7" fill="none" stroke="#5a5a5a" stroke-width="1"/>
<polyline points="325,384 430,386.5 537.7,387.5" fill="none" stroke="#a05510" stroke-width="1.7" stroke-linejoin="round" stroke-linecap="butt"/>
<polyline points="330,384 430,386 537.7,387" fill="none" stroke="#ffa000" stroke-width="1.7" stroke-linejoin="round" stroke-linecap="butt"/>
<polyline points="325,384 537.7,386" fill="none" stroke="#8a008a" stroke-width="1.7" stroke-linejoin="round" stroke-linecap="butt"/>
<polyline points="325,384 537.7,385.5" fill="none" stroke="#808080" stroke-width="1.6" stroke-linejoin="round" stroke-linecap="butt"/>
<polyline points="325,384 430,388.6 537.7,392.8" fill="none" stroke="#404040" stroke-width="1.6" stroke-linejoin="round" stroke-linecap="butt"/>
<polyline points="325,390 345,393.5 453,395 454,400 537.7,401" fill="none" stroke="#00f0f0" stroke-width="1.7" stroke-linejoin="round" stroke-linecap="butt"/>
<polyline points="340,384.5 380,388.2 400,392.5 440,397 537.7,401" fill="none" stroke="#80f080" stroke-width="1.6" stroke-linejoin="round" stroke-linecap="butt"/>
<polyline points="330,384.5 350,388 380,392.5 395,398 400,399 440,401.8 537.7,402.2" fill="none" stroke="#ff00ff" stroke-width="1.7" stroke-linejoin="round" stroke-linecap="butt"/>
<polyline points="355,384.5 400,390.4 420,395 430,400 448.8,406.4 453,410.6 456,414.7 464.5,416.8 482.3,422 494.8,424.2 507.4,426.3 537.7,426.5" fill="none" stroke="#f4f400" stroke-width="1.7" stroke-linejoin="round" stroke-linecap="butt"/>
<polyline points="325,391 345,393 430,396 455,397 488,398 490,404 497,404 498,413 508,413 510,415 513,440 515,470 518,500 519.5,506.4" fill="none" stroke="#7878ff" stroke-width="1.4" stroke-linejoin="round" stroke-linecap="butt"/>
<polyline points="325,384 507,514.5" fill="none" stroke="#ffb0c0" stroke-width="1.6" stroke-linejoin="round" stroke-linecap="butt"/>
<polyline points="325,384 327,386.83 329,390.02 331,393.92 333,397.45 335,400.77 337,402.22 339,404.07 341,405.85 343,407.09 345,408.68 347.5,408.87 350,410.2 352,411.06 354,412.34 356,413.38 358,413.97 360,414.44 362,416.18 364,416.66 366,417.76 368,418.67 370,419.56 372,421.42 374,423.38 376,424.26 378,425.83 380,426.9 382.14,428.86 384.29,430.59 386.43,432.1 388.57,433.74 390.71,435.52 392.86,438.17 395,440.01 397.14,441.1 399.29,443.15 401.43,445.06 403.57,446.12 405.71,446.95 407.86,448.09 410,449.22 412,451.34 414,453.11 416,455.16 418,457.2 420,459.61 422,462.23 424,464.44 426,466.16 428,467.99 430,470.02 432,472.27 434,474.53 436,476.51 438,478.92 440,482.15 442,483.44 444,485.39 446,487.43 448,489.65 450,490.93 452,492.48 454,494.11 456,495.98 458,497.89 460,500.36 462.2,503.49 464.4,506.55 466.6,508.5 468.8,510.83 471,514.3" fill="none" stroke="#0000ff" stroke-width="2.0" stroke-linejoin="round" stroke-linecap="butt"/>
<polyline points="325,384 327.38,388.12 329.75,392.32 332.12,396.08 334.5,400.01 336.93,402.69 339.37,405.88 341.8,409.49 344.18,412.35 346.55,415.16 348.93,418.01 351.3,420.21 354.15,424.81 357,429.61 359.17,433.12 361.33,436.68 363.5,440.36 365.67,443.73 367.83,447.02 370,450.42 372.17,453.55 374.33,456.84 376.5,459.74 378.67,463.4 380.83,466.49 383,470.23 385.17,472.76 387.33,475 389.5,477.2 391.67,479.62 393.83,482.38 396,485.09 398.33,489.74 400.67,494.5 403,499.72 405.2,502.76 407.4,505.57 409.6,508.27 411.8,511.33 414,514.3" fill="none" stroke="#44ee44" stroke-width="1.6" stroke-linejoin="round" stroke-linecap="butt"/>
<polyline points="325,383.5 537.7,384.4" fill="none" stroke="#3e74b0" stroke-width="1.7" stroke-linejoin="round" stroke-linecap="butt"/>
<polyline points="325,384 326,386.54 327,389.37 328,392.3 329,397.49 330,402.35 331,407.34 332,411.52 333,415.62 334,419.82 335,427.67 336,435.22 337,442.52 338,449.72 339,455.33 340,461 341,465.7 342,470.33 343,475.25 344,480.25 345,486.65 346,493.05 347,499.73 348,502.54 349,505.48 350,508.06 351,511" fill="none" stroke="#ff0000" stroke-width="1.9" stroke-linejoin="round" stroke-linecap="butt"/>
<line x1="324.8" y1="514.7" x2="324.8" y2="512.7" stroke="#5a5a5a" stroke-width="0.8"/>
<text x="324.8" y="526" font-size="7.9" text-anchor="middle" fill="#262626">0</text>
<line x1="378.03" y1="514.7" x2="378.03" y2="512.7" stroke="#5a5a5a" stroke-width="0.8"/>
<text x="378.03" y="526" font-size="7.9" text-anchor="middle" fill="#262626">50</text>
<line x1="431.25" y1="514.7" x2="431.25" y2="512.7" stroke="#5a5a5a" stroke-width="0.8"/>
<text x="431.25" y="526" font-size="7.9" text-anchor="middle" fill="#262626">100</text>
<line x1="484.48" y1="514.7" x2="484.48" y2="512.7" stroke="#5a5a5a" stroke-width="0.8"/>
<text x="484.48" y="526" font-size="7.9" text-anchor="middle" fill="#262626">150</text>
<line x1="537.7" y1="514.7" x2="537.7" y2="512.7" stroke="#5a5a5a" stroke-width="0.8"/>
<text x="537.7" y="526" font-size="7.9" text-anchor="middle" fill="#262626">200</text>
<line x1="324.8" y1="386.5" x2="326.8" y2="386.5" stroke="#5a5a5a" stroke-width="0.8"/>
<text x="321" y="390.7" font-size="7.9" text-anchor="end" fill="#262626">10<tspan font-size="5.7" dx="1" dy="-3.6">0</tspan></text>
<line x1="324.8" y1="465.5" x2="326.8" y2="465.5" stroke="#5a5a5a" stroke-width="0.8"/>
<text x="321" y="469.7" font-size="7.9" text-anchor="end" fill="#262626">10<tspan font-size="5.7" dx="1" dy="-3.6">-200</tspan></text>
<text x="431.25" y="537.1" font-size="8.5" text-anchor="middle" fill="#262626">Iteration</text>
<text x="431.25" y="378.4" font-size="8.7" font-weight="bold" text-anchor="middle" fill="#000" style="stroke:#000;stroke-width:0.08px">F6 Schwefel 2.23</text>
<text transform="translate(294.8,448.5) rotate(-90)" font-size="8.5" text-anchor="middle" fill="#262626">log f(x)</text>
<line x1="95.92" y1="565.4" x2="95.92" y2="697.8" stroke="#e4e4e4" stroke-width="0.8"/>
<line x1="149.35" y1="565.4" x2="149.35" y2="697.8" stroke="#e4e4e4" stroke-width="0.8"/>
<line x1="202.77" y1="565.4" x2="202.77" y2="697.8" stroke="#e4e4e4" stroke-width="0.8"/>
<line x1="256.2" y1="565.4" x2="256.2" y2="697.8" stroke="#e4e4e4" stroke-width="0.8"/>
<line x1="42.5" y1="697.8" x2="256.2" y2="697.8" stroke="#e4e4e4" stroke-width="0.8"/>
<line x1="42.5" y1="675.73" x2="256.2" y2="675.73" stroke="#e4e4e4" stroke-width="0.8"/>
<line x1="42.5" y1="653.67" x2="256.2" y2="653.67" stroke="#e4e4e4" stroke-width="0.8"/>
<line x1="42.5" y1="631.6" x2="256.2" y2="631.6" stroke="#e4e4e4" stroke-width="0.8"/>
<line x1="42.5" y1="609.53" x2="256.2" y2="609.53" stroke="#e4e4e4" stroke-width="0.8"/>
<line x1="42.5" y1="587.47" x2="256.2" y2="587.47" stroke="#e4e4e4" stroke-width="0.8"/>
<line x1="42.5" y1="565.4" x2="256.2" y2="565.4" stroke="#e4e4e4" stroke-width="0.8"/>
<path d="M42.5,565.4 V697.8 H256.2" fill="none" stroke="#5a5a5a" stroke-width="1"/>
<polyline points="43.5,660 44.5,690 47,697.8" fill="none" stroke="#00f0f0" stroke-width="1.7" stroke-linejoin="round" stroke-linecap="butt"/>
<polyline points="43.5,670 45,695 48,697.8" fill="none" stroke="#ffb0c0" stroke-width="1.6" stroke-linejoin="round" stroke-linecap="butt"/>
<polyline points="43.5,680 44.5,697.8" fill="none" stroke="#0000ff" stroke-width="2.0" stroke-linejoin="round" stroke-linecap="butt"/>
<polyline points="43.5,665 46,697.8" fill="none" stroke="#7878ff" stroke-width="1.4" stroke-linejoin="round" stroke-linecap="butt"/>
<polyline points="43.5,650 47,690 50,697.8" fill="none" stroke="#80f080" stroke-width="1.6" stroke-linejoin="round" stroke-linecap="butt"/>
<polyline points="43.5,612 45,650 48,680 55,692 70,696 90,697.8" fill="none" stroke="#404040" stroke-width="1.6" stroke-linejoin="round" stroke-linecap="butt"/>
<polyline points="43.5,640 47,670 52,690 58,697.8" fill="none" stroke="#44ee44" stroke-width="1.6" stroke-linejoin="round" stroke-linecap="butt"/>
<polyline points="43.5,625 46,660 50,685 55,697.8" fill="none" stroke="#f4f400" stroke-width="1.7" stroke-linejoin="round" stroke-linecap="butt"/>
<polyline points="43.5,650 45,680 48,693 52,697.8" fill="none" stroke="#ff00ff" stroke-width="1.7" stroke-linejoin="round" stroke-linecap="butt"/>
<polyline points="43,610 45,640 46,660 50,680 55,683 60,688 70,692 80,694 110,697.8" fill="none" stroke="#808080" stroke-width="1.6" stroke-linejoin="round" stroke-linecap="butt"/>
<polyline points="45,660 47,689.8 121.8,689.8 125,693 135,695 150,697.8" fill="none" stroke="#8a008a" stroke-width="1.7" stroke-linejoin="round" stroke-linecap="butt"/>
<polyline points="43.5,620 45,640.4 54,640.4 55.5,645.5 56.3,657 58,665 59.6,670 67,671 68.5,673 70.5,680.8 72.7,684 74,689.5 75,696 80,697.8" fill="none" stroke="#ffa000" stroke-width="1.7" stroke-linejoin="round" stroke-linecap="butt"/>
<polyline points="43.5,649.7 54,649.7 55.5,659 70,659 71,666.8 124.7,666.8 125.5,678.7 140.7,678.7 141.5,685.1 184.4,685.1 185,687.1 222.2,687.1 223,692.4 256.2,692.4" fill="none" stroke="#a05510" stroke-width="1.7" stroke-linejoin="round" stroke-linecap="butt"/>
<polyline points="43.5,576.2 45.5,576.2 46,584 48,584 48.5,595.5 52,595.5 52.5,597 59,597 60.5,604.5 74.5,604.5 75.5,651.3 81.5,651.3 84,656.7 85,656.7 86,671 113,671 116,676.4 117,676.4 118,686.5 171.3,686.5 172,690 203,690 204,693.2 256.2,693.2" fill="none" stroke="#3e74b0" stroke-width="1.7" stroke-linejoin="round" stroke-linecap="butt"/>
<polyline points="43.7,616 44,697.8 256.2,697.8" fill="none" stroke="#ff0000" stroke-width="1.9" stroke-linejoin="round" stroke-linecap="butt"/>
<line x1="42.5" y1="697.8" x2="42.5" y2="695.8" stroke="#5a5a5a" stroke-width="0.8"/>
<text x="42.5" y="709.1" font-size="7.9" text-anchor="middle" fill="#262626">0</text>
<line x1="95.92" y1="697.8" x2="95.92" y2="695.8" stroke="#5a5a5a" stroke-width="0.8"/>
<text x="95.92" y="709.1" font-size="7.9" text-anchor="middle" fill="#262626">50</text>
<line x1="149.35" y1="697.8" x2="149.35" y2="695.8" stroke="#5a5a5a" stroke-width="0.8"/>
<text x="149.35" y="709.1" font-size="7.9" text-anchor="middle" fill="#262626">100</text>
<line x1="202.77" y1="697.8" x2="202.77" y2="695.8" stroke="#5a5a5a" stroke-width="0.8"/>
<text x="202.77" y="709.1" font-size="7.9" text-anchor="middle" fill="#262626">150</text>
<line x1="256.2" y1="697.8" x2="256.2" y2="695.8" stroke="#5a5a5a" stroke-width="0.8"/>
<text x="256.2" y="709.1" font-size="7.9" text-anchor="middle" fill="#262626">200</text>
<line x1="42.5" y1="697.8" x2="44.5" y2="697.8" stroke="#5a5a5a" stroke-width="0.8"/>
<text x="38.5" y="700.7" font-size="7.9" text-anchor="end" fill="#262626">0</text>
<line x1="42.5" y1="675.73" x2="44.5" y2="675.73" stroke="#5a5a5a" stroke-width="0.8"/>
<text x="38.5" y="678.63" font-size="7.9" text-anchor="end" fill="#262626">50</text>
<line x1="42.5" y1="653.67" x2="44.5" y2="653.67" stroke="#5a5a5a" stroke-width="0.8"/>
<text x="38.5" y="656.57" font-size="7.9" text-anchor="end" fill="#262626">100</text>
<line x1="42.5" y1="631.6" x2="44.5" y2="631.6" stroke="#5a5a5a" stroke-width="0.8"/>
<text x="38.5" y="634.5" font-size="7.9" text-anchor="end" fill="#262626">150</text>
<line x1="42.5" y1="609.53" x2="44.5" y2="609.53" stroke="#5a5a5a" stroke-width="0.8"/>
<text x="38.5" y="612.43" font-size="7.9" text-anchor="end" fill="#262626">200</text>
<line x1="42.5" y1="587.47" x2="44.5" y2="587.47" stroke="#5a5a5a" stroke-width="0.8"/>
<text x="38.5" y="590.37" font-size="7.9" text-anchor="end" fill="#262626">250</text>
<line x1="42.5" y1="565.4" x2="44.5" y2="565.4" stroke="#5a5a5a" stroke-width="0.8"/>
<text x="38.5" y="568.3" font-size="7.9" text-anchor="end" fill="#262626">300</text>
<text x="149.35" y="720.2" font-size="8.5" text-anchor="middle" fill="#262626">Iteration</text>
<text x="149.35" y="561.5" font-size="8.7" font-weight="bold" text-anchor="middle" fill="#000" style="stroke:#000;stroke-width:0.08px">F7 Sphere</text>
<text transform="translate(21,631.6) rotate(-90)" font-size="8.5" text-anchor="middle" fill="#262626">f(x)</text>
<line x1="378.03" y1="565.4" x2="378.03" y2="697.8" stroke="#e4e4e4" stroke-width="0.8"/>
<line x1="431.25" y1="565.4" x2="431.25" y2="697.8" stroke="#e4e4e4" stroke-width="0.8"/>
<line x1="484.48" y1="565.4" x2="484.48" y2="697.8" stroke="#e4e4e4" stroke-width="0.8"/>
<line x1="537.7" y1="565.4" x2="537.7" y2="697.8" stroke="#e4e4e4" stroke-width="0.8"/>
<line x1="324.8" y1="697.8" x2="537.7" y2="697.8" stroke="#e4e4e4" stroke-width="0.8"/>
<line x1="324.8" y1="678.89" x2="537.7" y2="678.89" stroke="#e4e4e4" stroke-width="0.8"/>
<line x1="324.8" y1="659.97" x2="537.7" y2="659.97" stroke="#e4e4e4" stroke-width="0.8"/>
<line x1="324.8" y1="641.06" x2="537.7" y2="641.06" stroke="#e4e4e4" stroke-width="0.8"/>
<line x1="324.8" y1="622.14" x2="537.7" y2="622.14" stroke="#e4e4e4" stroke-width="0.8"/>
<line x1="324.8" y1="603.23" x2="537.7" y2="603.23" stroke="#e4e4e4" stroke-width="0.8"/>
<line x1="324.8" y1="584.31" x2="537.7" y2="584.31" stroke="#e4e4e4" stroke-width="0.8"/>
<line x1="324.8" y1="565.4" x2="537.7" y2="565.4" stroke="#e4e4e4" stroke-width="0.8"/>
<path d="M324.8,565.4 V697.8 H537.7" fill="none" stroke="#5a5a5a" stroke-width="1"/>
<polyline points="325.5,650 326.5,690 329,697.8" fill="none" stroke="#00f0f0" stroke-width="1.7" stroke-linejoin="round" stroke-linecap="butt"/>
<polyline points="325.5,660 327,692 331,697.8" fill="none" stroke="#ffb0c0" stroke-width="1.6" stroke-linejoin="round" stroke-linecap="butt"/>
<polyline points="325.5,670 326.5,697.8" fill="none" stroke="#0000ff" stroke-width="2.0" stroke-linejoin="round" stroke-linecap="butt"/>
<polyline points="325.5,660 328,697.8" fill="none" stroke="#7878ff" stroke-width="1.4" stroke-linejoin="round" stroke-linecap="butt"/>
<polyline points="325.5,640 329,690 333,697.8" fill="none" stroke="#80f080" stroke-width="1.6" stroke-linejoin="round" stroke-linecap="butt"/>
<polyline points="325.5,620 328,670 333,690 345,697.8" fill="none" stroke="#404040" stroke-width="1.6" stroke-linejoin="round" stroke-linecap="butt"/>
<polyline points="325.5,584 327,600 329,650 333,680 338,697.8" fill="none" stroke="#44ee44" stroke-width="1.6" stroke-linejoin="round" stroke-linecap="butt"/>
<polyline points="325.5,590 328,620 331,660 335,690 340,697.8" fill="none" stroke="#f4f400" stroke-width="1.7" stroke-linejoin="round" stroke-linecap="butt"/>
<polyline points="325.5,640 327,680 330,695 334,697.8" fill="none" stroke="#ff00ff" stroke-width="1.7" stroke-linejoin="round" stroke-linecap="butt"/>
<polyline points="326,600 327,640 330,680 335,687 345,688 360,694 380,697.8" fill="none" stroke="#808080" stroke-width="1.6" stroke-linejoin="round" stroke-linecap="butt"/>
<polyline points="327,660 330,680 333,684.2 397.5,684.2 400,690 410,693 420,697.8" fill="none" stroke="#8a008a" stroke-width="1.7" stroke-linejoin="round" stroke-linecap="butt"/>
<polyline points="326,598 330,605 333,625 335,660 340,663 343,668 345,680 355,681 358,690 360,697.8" fill="none" stroke="#ffa000" stroke-width="1.7" stroke-linejoin="round" stroke-linecap="butt"/>
<polyline points="326,591 328,591 329,599.7 337,599.7 339,650.4 342,650.4 344,654.5 349,654.5 350,671 384,671 385,672.3 409.5,672.3 413,673 420,675 428,676 430,686 437,686 438,689 513,689 516,692 537.7,692" fill="none" stroke="#a05510" stroke-width="1.7" stroke-linejoin="round" stroke-linecap="butt"/>
<polyline points="325.5,570.3 330,570.3 331,576.8 338,576.8 338.5,616.1 373.5,616.1 375,620 377,640.5 387.6,640.5 389,645 391,645 392,650 394,650 395,655 397,655 398,660 400,660 401,663 403,663 404,666 405,670 415,671 427,671 428,672 430,688.2 460,688.2 463,691 537.7,691.5" fill="none" stroke="#3e74b0" stroke-width="1.7" stroke-linejoin="round" stroke-linecap="butt"/>
<polyline points="325.7,614 326,697.8 537.7,697.8" fill="none" stroke="#ff0000" stroke-width="1.9" stroke-linejoin="round" stroke-linecap="butt"/>
<line x1="324.8" y1="697.8" x2="324.8" y2="695.8" stroke="#5a5a5a" stroke-width="0.8"/>
<text x="324.8" y="709.1" font-size="7.9" text-anchor="middle" fill="#262626">0</text>
<line x1="378.03" y1="697.8" x2="378.03" y2="695.8" stroke="#5a5a5a" stroke-width="0.8"/>
<text x="378.03" y="709.1" font-size="7.9" text-anchor="middle" fill="#262626">50</text>
<line x1="431.25" y1="697.8" x2="431.25" y2="695.8" stroke="#5a5a5a" stroke-width="0.8"/>
<text x="431.25" y="709.1" font-size="7.9" text-anchor="middle" fill="#262626">100</text>
<line x1="484.48" y1="697.8" x2="484.48" y2="695.8" stroke="#5a5a5a" stroke-width="0.8"/>
<text x="484.48" y="709.1" font-size="7.9" text-anchor="middle" fill="#262626">150</text>
<line x1="537.7" y1="697.8" x2="537.7" y2="695.8" stroke="#5a5a5a" stroke-width="0.8"/>
<text x="537.7" y="709.1" font-size="7.9" text-anchor="middle" fill="#262626">200</text>
<line x1="324.8" y1="697.8" x2="326.8" y2="697.8" stroke="#5a5a5a" stroke-width="0.8"/>
<text x="320.8" y="700.7" font-size="7.9" text-anchor="end" fill="#262626">0</text>
<line x1="324.8" y1="678.89" x2="326.8" y2="678.89" stroke="#5a5a5a" stroke-width="0.8"/>
<text x="320.8" y="681.79" font-size="7.9" text-anchor="end" fill="#262626">2000</text>
<line x1="324.8" y1="659.97" x2="326.8" y2="659.97" stroke="#5a5a5a" stroke-width="0.8"/>
<text x="320.8" y="662.87" font-size="7.9" text-anchor="end" fill="#262626">4000</text>
<line x1="324.8" y1="641.06" x2="326.8" y2="641.06" stroke="#5a5a5a" stroke-width="0.8"/>
<text x="320.8" y="643.96" font-size="7.9" text-anchor="end" fill="#262626">6000</text>
<line x1="324.8" y1="622.14" x2="326.8" y2="622.14" stroke="#5a5a5a" stroke-width="0.8"/>
<text x="320.8" y="625.04" font-size="7.9" text-anchor="end" fill="#262626">8000</text>
<line x1="324.8" y1="603.23" x2="326.8" y2="603.23" stroke="#5a5a5a" stroke-width="0.8"/>
<text x="320.8" y="606.13" font-size="7.9" text-anchor="end" fill="#262626">10,000</text>
<line x1="324.8" y1="584.31" x2="326.8" y2="584.31" stroke="#5a5a5a" stroke-width="0.8"/>
<text x="320.8" y="587.21" font-size="7.9" text-anchor="end" fill="#262626">12,000</text>
<line x1="324.8" y1="565.4" x2="326.8" y2="565.4" stroke="#5a5a5a" stroke-width="0.8"/>
<text x="320.8" y="568.3" font-size="7.9" text-anchor="end" fill="#262626">14,000</text>
<text x="431.25" y="720.2" font-size="8.5" text-anchor="middle" fill="#262626">Iteration</text>
<text x="431.25" y="561.5" font-size="8.7" font-weight="bold" text-anchor="middle" fill="#000" style="stroke:#000;stroke-width:0.08px">F8 Sum Squares</text>
<text transform="translate(292.4,631.6) rotate(-90)" font-size="8.5" text-anchor="middle" fill="#262626">f(x)</text>
<line x1="95.92" y1="749" x2="95.92" y2="881.4" stroke="#e4e4e4" stroke-width="0.8"/>
<line x1="149.35" y1="749" x2="149.35" y2="881.4" stroke="#e4e4e4" stroke-width="0.8"/>
<line x1="202.77" y1="749" x2="202.77" y2="881.4" stroke="#e4e4e4" stroke-width="0.8"/>
<line x1="256.2" y1="749" x2="256.2" y2="881.4" stroke="#e4e4e4" stroke-width="0.8"/>
<line x1="42.5" y1="760.2" x2="256.2" y2="760.2" stroke="#e4e4e4" stroke-width="0.8"/>
<line x1="42.5" y1="787.7" x2="256.2" y2="787.7" stroke="#e4e4e4" stroke-width="0.8"/>
<line x1="42.5" y1="815.2" x2="256.2" y2="815.2" stroke="#e4e4e4" stroke-width="0.8"/>
<line x1="42.5" y1="842.7" x2="256.2" y2="842.7" stroke="#e4e4e4" stroke-width="0.8"/>
<line x1="42.5" y1="870.2" x2="256.2" y2="870.2" stroke="#e4e4e4" stroke-width="0.8"/>
<path d="M42.5,749 V881.4 H256.2" fill="none" stroke="#5a5a5a" stroke-width="1"/>
<polyline points="43.3,760.2 43.3,815.2 43.5,870.2 256.2,870.2" fill="none" stroke="#808080" stroke-width="1.6" stroke-linejoin="round" stroke-linecap="butt"/>
<polyline points="43.5,760.2 48,760.5 48.3,870.2 256.2,870.2" fill="none" stroke="#404040" stroke-width="1.6" stroke-linejoin="round" stroke-linecap="butt"/>
<polyline points="43,760.2 73.6,760.2 73.8,866.5 75.5,866.5 77,867.5 80,870.2" fill="none" stroke="#f4f400" stroke-width="1.7" stroke-linejoin="round" stroke-linecap="butt"/>
<polyline points="47.5,760.2 50.2,766 50.8,778 51.8,867 52.5,870.2" fill="none" stroke="#00f0f0" stroke-width="1.7" stroke-linejoin="round" stroke-linecap="butt"/>
<polyline points="46,760.2 47.2,765 47.4,780.8 51,781 53,850.4 57,851 58,853 59,854.5 60.5,867 62,870.2 256.2,870.2" fill="none" stroke="#0000ff" stroke-width="2.0" stroke-linejoin="round" stroke-linecap="butt"/>
<polyline points="43,760.2 195.7,760.2 196.5,868.5 256.2,868.5" fill="none" stroke="#ff00ff" stroke-width="1.7" stroke-linejoin="round" stroke-linecap="butt"/>
<polyline points="43,760.2 248.4,760.2 249,869.3 256.2,869.3" fill="none" stroke="#7878ff" stroke-width="1.4" stroke-linejoin="round" stroke-linecap="butt"/>
<polyline points="43,760.2 256.2,760.2" fill="none" stroke="#3e74b0" stroke-width="1.7" stroke-linejoin="round" stroke-linecap="butt"/>
<polyline points="43,760.2 45.5,760.2 46.4,865 47.5,870.2 256.2,870.2" fill="none" stroke="#ff0000" stroke-width="1.9" stroke-linejoin="round" stroke-linecap="butt"/>
<line x1="42.5" y1="881.4" x2="42.5" y2="879.4" stroke="#5a5a5a" stroke-width="0.8"/>
<text x="42.5" y="892.7" font-size="7.9" text-anchor="middle" fill="#262626">0</text>
<line x1="95.92" y1="881.4" x2="95.92" y2="879.4" stroke="#5a5a5a" stroke-width="0.8"/>
<text x="95.92" y="892.7" font-size="7.9" text-anchor="middle" fill="#262626">50</text>
<line x1="149.35" y1="881.4" x2="149.35" y2="879.4" stroke="#5a5a5a" stroke-width="0.8"/>
<text x="149.35" y="892.7" font-size="7.9" text-anchor="middle" fill="#262626">100</text>
<line x1="202.77" y1="881.4" x2="202.77" y2="879.4" stroke="#5a5a5a" stroke-width="0.8"/>
<text x="202.77" y="892.7" font-size="7.9" text-anchor="middle" fill="#262626">150</text>
<line x1="256.2" y1="881.4" x2="256.2" y2="879.4" stroke="#5a5a5a" stroke-width="0.8"/>
<text x="256.2" y="892.7" font-size="7.9" text-anchor="middle" fill="#262626">200</text>
<line x1="42.5" y1="760.2" x2="44.5" y2="760.2" stroke="#5a5a5a" stroke-width="0.8"/>
<text x="38.5" y="763.1" font-size="7.9" text-anchor="end" fill="#262626">1</text>
<line x1="42.5" y1="787.7" x2="44.5" y2="787.7" stroke="#5a5a5a" stroke-width="0.8"/>
<text x="38.5" y="790.6" font-size="7.9" text-anchor="end" fill="#262626">0.5</text>
<line x1="42.5" y1="815.2" x2="44.5" y2="815.2" stroke="#5a5a5a" stroke-width="0.8"/>
<text x="38.5" y="818.1" font-size="7.9" text-anchor="end" fill="#262626">0</text>
<line x1="42.5" y1="842.7" x2="44.5" y2="842.7" stroke="#5a5a5a" stroke-width="0.8"/>
<text x="38.5" y="845.6" font-size="7.9" text-anchor="end" fill="#262626">-0.5</text>
<line x1="42.5" y1="870.2" x2="44.5" y2="870.2" stroke="#5a5a5a" stroke-width="0.8"/>
<text x="38.5" y="873.1" font-size="7.9" text-anchor="end" fill="#262626">-1</text>
<text x="149.35" y="903.8" font-size="8.5" text-anchor="middle" fill="#262626">Iteration</text>
<text x="149.35" y="745.1" font-size="8.7" font-weight="bold" text-anchor="middle" fill="#000" style="stroke:#000;stroke-width:0.08px">F9 Xin-She Yang N. 3</text>
<text transform="translate(19,815.2) rotate(-90)" font-size="8.5" text-anchor="middle" fill="#262626">f(x)</text>
<line x1="335.44" y1="749" x2="335.44" y2="881.4" stroke="#e2e2e2" stroke-width="0.6" stroke-dasharray="1,1.2"/>
<line x1="346.09" y1="749" x2="346.09" y2="881.4" stroke="#e2e2e2" stroke-width="0.6" stroke-dasharray="1,1.2"/>
<line x1="356.74" y1="749" x2="356.74" y2="881.4" stroke="#e2e2e2" stroke-width="0.6" stroke-dasharray="1,1.2"/>
<line x1="367.38" y1="749" x2="367.38" y2="881.4" stroke="#e2e2e2" stroke-width="0.6" stroke-dasharray="1,1.2"/>
<line x1="388.67" y1="749" x2="388.67" y2="881.4" stroke="#e2e2e2" stroke-width="0.6" stroke-dasharray="1,1.2"/>
<line x1="399.32" y1="749" x2="399.32" y2="881.4" stroke="#e2e2e2" stroke-width="0.6" stroke-dasharray="1,1.2"/>
<line x1="409.96" y1="749" x2="409.96" y2="881.4" stroke="#e2e2e2" stroke-width="0.6" stroke-dasharray="1,1.2"/>
<line x1="420.61" y1="749" x2="420.61" y2="881.4" stroke="#e2e2e2" stroke-width="0.6" stroke-dasharray="1,1.2"/>
<line x1="441.9" y1="749" x2="441.9" y2="881.4" stroke="#e2e2e2" stroke-width="0.6" stroke-dasharray="1,1.2"/>
<line x1="452.54" y1="749" x2="452.54" y2="881.4" stroke="#e2e2e2" stroke-width="0.6" stroke-dasharray="1,1.2"/>
<line x1="463.19" y1="749" x2="463.19" y2="881.4" stroke="#e2e2e2" stroke-width="0.6" stroke-dasharray="1,1.2"/>
<line x1="473.83" y1="749" x2="473.83" y2="881.4" stroke="#e2e2e2" stroke-width="0.6" stroke-dasharray="1,1.2"/>
<line x1="495.12" y1="749" x2="495.12" y2="881.4" stroke="#e2e2e2" stroke-width="0.6" stroke-dasharray="1,1.2"/>
<line x1="505.77" y1="749" x2="505.77" y2="881.4" stroke="#e2e2e2" stroke-width="0.6" stroke-dasharray="1,1.2"/>
<line x1="516.41" y1="749" x2="516.41" y2="881.4" stroke="#e2e2e2" stroke-width="0.6" stroke-dasharray="1,1.2"/>
<line x1="527.06" y1="749" x2="527.06" y2="881.4" stroke="#e2e2e2" stroke-width="0.6" stroke-dasharray="1,1.2"/>
<line x1="324.8" y1="749.03" x2="537.7" y2="749.03" stroke="#e2e2e2" stroke-width="0.6" stroke-dasharray="1,1.2"/>
<line x1="324.8" y1="753" x2="537.7" y2="753" stroke="#e2e2e2" stroke-width="0.6" stroke-dasharray="1,1.2"/>
<line x1="324.8" y1="756.97" x2="537.7" y2="756.97" stroke="#e2e2e2" stroke-width="0.6" stroke-dasharray="1,1.2"/>
<line x1="324.8" y1="760.94" x2="537.7" y2="760.94" stroke="#e2e2e2" stroke-width="0.6" stroke-dasharray="1,1.2"/>
<line x1="324.8" y1="764.91" x2="537.7" y2="764.91" stroke="#e2e2e2" stroke-width="0.6" stroke-dasharray="1,1.2"/>
<line x1="324.8" y1="768.88" x2="537.7" y2="768.88" stroke="#e2e2e2" stroke-width="0.6" stroke-dasharray="1,1.2"/>
<line x1="324.8" y1="772.85" x2="537.7" y2="772.85" stroke="#e2e2e2" stroke-width="0.6" stroke-dasharray="1,1.2"/>
<line x1="324.8" y1="776.82" x2="537.7" y2="776.82" stroke="#e2e2e2" stroke-width="0.6" stroke-dasharray="1,1.2"/>
<line x1="324.8" y1="780.79" x2="537.7" y2="780.79" stroke="#e2e2e2" stroke-width="0.6" stroke-dasharray="1,1.2"/>
<line x1="324.8" y1="784.76" x2="537.7" y2="784.76" stroke="#e2e2e2" stroke-width="0.6" stroke-dasharray="1,1.2"/>
<line x1="324.8" y1="788.73" x2="537.7" y2="788.73" stroke="#e2e2e2" stroke-width="0.6" stroke-dasharray="1,1.2"/>
<line x1="324.8" y1="792.7" x2="537.7" y2="792.7" stroke="#e2e2e2" stroke-width="0.6" stroke-dasharray="1,1.2"/>
<line x1="324.8" y1="796.67" x2="537.7" y2="796.67" stroke="#e2e2e2" stroke-width="0.6" stroke-dasharray="1,1.2"/>
<line x1="324.8" y1="800.64" x2="537.7" y2="800.64" stroke="#e2e2e2" stroke-width="0.6" stroke-dasharray="1,1.2"/>
<line x1="324.8" y1="804.61" x2="537.7" y2="804.61" stroke="#e2e2e2" stroke-width="0.6" stroke-dasharray="1,1.2"/>
<line x1="324.8" y1="808.58" x2="537.7" y2="808.58" stroke="#e2e2e2" stroke-width="0.6" stroke-dasharray="1,1.2"/>
<line x1="324.8" y1="812.55" x2="537.7" y2="812.55" stroke="#e2e2e2" stroke-width="0.6" stroke-dasharray="1,1.2"/>
<line x1="324.8" y1="816.52" x2="537.7" y2="816.52" stroke="#e2e2e2" stroke-width="0.6" stroke-dasharray="1,1.2"/>
<line x1="324.8" y1="820.49" x2="537.7" y2="820.49" stroke="#e2e2e2" stroke-width="0.6" stroke-dasharray="1,1.2"/>
<line x1="324.8" y1="824.46" x2="537.7" y2="824.46" stroke="#e2e2e2" stroke-width="0.6" stroke-dasharray="1,1.2"/>
<line x1="324.8" y1="828.43" x2="537.7" y2="828.43" stroke="#e2e2e2" stroke-width="0.6" stroke-dasharray="1,1.2"/>
<line x1="324.8" y1="832.4" x2="537.7" y2="832.4" stroke="#e2e2e2" stroke-width="0.6" stroke-dasharray="1,1.2"/>
<line x1="324.8" y1="836.37" x2="537.7" y2="836.37" stroke="#e2e2e2" stroke-width="0.6" stroke-dasharray="1,1.2"/>
<line x1="324.8" y1="840.34" x2="537.7" y2="840.34" stroke="#e2e2e2" stroke-width="0.6" stroke-dasharray="1,1.2"/>
<line x1="324.8" y1="844.31" x2="537.7" y2="844.31" stroke="#e2e2e2" stroke-width="0.6" stroke-dasharray="1,1.2"/>
<line x1="324.8" y1="848.28" x2="537.7" y2="848.28" stroke="#e2e2e2" stroke-width="0.6" stroke-dasharray="1,1.2"/>
<line x1="324.8" y1="852.25" x2="537.7" y2="852.25" stroke="#e2e2e2" stroke-width="0.6" stroke-dasharray="1,1.2"/>
<line x1="324.8" y1="856.22" x2="537.7" y2="856.22" stroke="#e2e2e2" stroke-width="0.6" stroke-dasharray="1,1.2"/>
<line x1="324.8" y1="860.19" x2="537.7" y2="860.19" stroke="#e2e2e2" stroke-width="0.6" stroke-dasharray="1,1.2"/>
<line x1="324.8" y1="864.16" x2="537.7" y2="864.16" stroke="#e2e2e2" stroke-width="0.6" stroke-dasharray="1,1.2"/>
<line x1="324.8" y1="868.13" x2="537.7" y2="868.13" stroke="#e2e2e2" stroke-width="0.6" stroke-dasharray="1,1.2"/>
<line x1="324.8" y1="872.1" x2="537.7" y2="872.1" stroke="#e2e2e2" stroke-width="0.6" stroke-dasharray="1,1.2"/>
<line x1="324.8" y1="876.07" x2="537.7" y2="876.07" stroke="#e2e2e2" stroke-width="0.6" stroke-dasharray="1,1.2"/>
<line x1="324.8" y1="880.04" x2="537.7" y2="880.04" stroke="#e2e2e2" stroke-width="0.6" stroke-dasharray="1,1.2"/>
<line x1="378.03" y1="749" x2="378.03" y2="881.4" stroke="#e4e4e4" stroke-width="0.8"/>
<line x1="431.25" y1="749" x2="431.25" y2="881.4" stroke="#e4e4e4" stroke-width="0.8"/>
<line x1="484.48" y1="749" x2="484.48" y2="881.4" stroke="#e4e4e4" stroke-width="0.8"/>
<line x1="537.7" y1="749" x2="537.7" y2="881.4" stroke="#e4e4e4" stroke-width="0.8"/>
<line x1="324.8" y1="753" x2="537.7" y2="753" stroke="#e4e4e4" stroke-width="0.8"/>
<line x1="324.8" y1="832.4" x2="537.7" y2="832.4" stroke="#e4e4e4" stroke-width="0.8"/>
<path d="M324.8,749 V881.4 H537.7" fill="none" stroke="#5a5a5a" stroke-width="1"/>
<polyline points="325,749.8 400,749.8 401,751.6" fill="none" stroke="#a05510" stroke-width="1.7" stroke-linejoin="round" stroke-linecap="butt"/>
<polyline points="325,752 537.7,752.4" fill="none" stroke="#8a008a" stroke-width="1.7" stroke-linejoin="round" stroke-linecap="butt"/>
<polyline points="325,752 537.7,752.4" fill="none" stroke="#ff00ff" stroke-width="1.7" stroke-linejoin="round" stroke-linecap="butt"/>
<polyline points="325,750 355,753.4 537.7,754" fill="none" stroke="#00f0f0" stroke-width="1.7" stroke-linejoin="round" stroke-linecap="butt"/>
<polyline points="325,752.4 537.7,752.8" fill="none" stroke="#7878ff" stroke-width="1.4" stroke-linejoin="round" stroke-linecap="butt"/>
<polyline points="330,752 420,765.9 537.7,782.5" fill="none" stroke="#ffb0c0" stroke-width="1.6" stroke-linejoin="round" stroke-linecap="butt"/>
<polyline points="325,750 345,755.6 378,761 410,767 440,775 537.7,794.3" fill="none" stroke="#44ee44" stroke-width="1.6" stroke-linejoin="round" stroke-linecap="butt"/>
<polyline points="325,750 327.04,750.57 329.08,751.02 331.12,751.27 333.15,751.36 335.19,752.1 337.23,752.22 339.27,752.8 341.31,752.88 343.35,753.07 345.38,753.7 347.42,753.91 349.46,754.63 351.5,754.9 353.54,754.98 355.58,755.21 357.62,755.62 359.65,756.19 361.69,756.88 363.73,756.88 365.77,757.19 367.81,757.4 369.85,758.21 371.88,758.26 373.92,758.37 375.96,758.59 378,759.1 380.04,759.85 382.08,760.42 384.12,760.77 386.17,761.3 388.21,761.69 390.25,761.63 392.29,761.62 394.33,762.27 396.38,762.64 398.42,762.5 400.46,762.98 402.5,763.19 404.54,763.44 406.58,763.68 408.62,763.84 410.67,763.94 412.71,764.32 414.75,764.73 416.79,765.52 418.83,765.54 420.88,766.26 422.92,766.29 424.96,766.53 427,767.13 429.04,767.71 431.08,767.94 433.12,767.98 435.17,768.46 437.21,768.84 439.25,769.61 441.29,769.72 443.33,770.08 445.38,770.82 447.42,770.82 449.46,771.25 451.5,771.95 453.54,772.5 455.58,772.49 457.62,772.63 459.67,772.9 461.71,773.83 463.75,774.08 465.79,774.73 467.83,775.4 469.88,775.56 471.92,775.78 473.96,776.55 476,776.93 478,777.04 480,777.57 482,777.75 484,777.97 486,778.07 488,778.79 490,779.49 492,779.85 494,780.44 496,780.29 498,780.49 500,780.93 502,781.67 504,782.26 506,782.37 508,782.48 510,782.82 512,783.22 514,783.9 516,783.94 518.17,785.07 520.34,786.07 522.51,787.09 524.68,788.02 526.85,788.83 529.02,789.48 531.19,790.22 533.36,791.06 535.53,792.21 537.7,793" fill="none" stroke="#0000ff" stroke-width="2.0" stroke-linejoin="round" stroke-linecap="butt"/>
<polyline points="325,751.4 537.7,752.2" fill="none" stroke="#3e74b0" stroke-width="1.7" stroke-linejoin="round" stroke-linecap="butt"/>
<polyline points="325,749.5 327,751.31 329,753.31 331,755.74 333,757.69 335,759.57 337.13,761.64 339.27,764.13 341.4,766.36 343.53,769.04 345.67,771.47 347.8,773.89 349.93,775.72 352.07,777.59 354.2,779.6 356.2,781.58 358.2,783.64 360.2,785.42 362.2,787.06 364.2,788.9 366.2,790.87 368.2,792.82 370.2,794.77 372.2,796.74 374.2,798.51 376.2,799.93 378.2,802 380.23,804.28 382.26,806.83 384.29,809.23 386.31,811.93 388.34,814.16 390.37,816.54 392.4,818.97 394.58,821.52 396.76,824.64 398.93,827.36 401.11,829.88 403.29,832.51 405.47,835.57 407.64,838.13 409.82,840.55 412,843.46 414.19,845.96 416.38,848.67 418.56,850.65 420.75,853.08 422.94,855.76 425.12,858.37 427.31,860.96 429.5,862.88 431.62,865.01 433.75,867.07 435.88,869.25 438,872.02 440.12,874.31 442.25,876.84 444.38,878.87 446.5,881" fill="none" stroke="#ff0000" stroke-width="1.9" stroke-linejoin="round" stroke-linecap="butt"/>
<line x1="324.8" y1="881.4" x2="324.8" y2="879.4" stroke="#5a5a5a" stroke-width="0.8"/>
<text x="324.8" y="892.7" font-size="7.9" text-anchor="middle" fill="#262626">0</text>
<line x1="378.03" y1="881.4" x2="378.03" y2="879.4" stroke="#5a5a5a" stroke-width="0.8"/>
<text x="378.03" y="892.7" font-size="7.9" text-anchor="middle" fill="#262626">50</text>
<line x1="431.25" y1="881.4" x2="431.25" y2="879.4" stroke="#5a5a5a" stroke-width="0.8"/>
<text x="431.25" y="892.7" font-size="7.9" text-anchor="middle" fill="#262626">100</text>
<line x1="484.48" y1="881.4" x2="484.48" y2="879.4" stroke="#5a5a5a" stroke-width="0.8"/>
<text x="484.48" y="892.7" font-size="7.9" text-anchor="middle" fill="#262626">150</text>
<line x1="537.7" y1="881.4" x2="537.7" y2="879.4" stroke="#5a5a5a" stroke-width="0.8"/>
<text x="537.7" y="892.7" font-size="7.9" text-anchor="middle" fill="#262626">200</text>
<line x1="324.8" y1="753" x2="326.8" y2="753" stroke="#5a5a5a" stroke-width="0.8"/>
<text x="321" y="757.2" font-size="7.9" text-anchor="end" fill="#262626">10<tspan font-size="5.7" dx="1" dy="-3.6">0</tspan></text>
<line x1="324.8" y1="832.4" x2="326.8" y2="832.4" stroke="#5a5a5a" stroke-width="0.8"/>
<text x="321" y="836.6" font-size="7.9" text-anchor="end" fill="#262626">10<tspan font-size="5.7" dx="1" dy="-3.6">-200</tspan></text>
<text x="431.25" y="903.8" font-size="8.5" text-anchor="middle" fill="#262626">Iteration</text>
<text x="431.25" y="745.1" font-size="8.7" font-weight="bold" text-anchor="middle" fill="#000" style="stroke:#000;stroke-width:0.08px">F10 Zakharov</text>
<text transform="translate(294.8,815.2) rotate(-90)" font-size="8.5" text-anchor="middle" fill="#262626">log f(x)</text>
<rect x="88.3" y="930.5" width="389.5" height="21.2" fill="#fff" stroke="#6a6a6a" stroke-width="0.9"/>
<line x1="89.9" y1="936.5" x2="113.9" y2="936.5" stroke="#44ee44" stroke-width="1.4"/>
<text x="115.9" y="939.5" font-size="7" fill="#262626">GWO</text>
<line x1="137.8" y1="936.5" x2="161.8" y2="936.5" stroke="#0000ff" stroke-width="1.4"/>
<text x="163.8" y="939.5" font-size="7" fill="#262626">BWO</text>
<line x1="184.9" y1="936.5" x2="208.9" y2="936.5" stroke="#404040" stroke-width="1.4"/>
<text x="210.9" y="939.5" font-size="7" fill="#262626">DO</text>
<line x1="230.8" y1="936.5" x2="254.8" y2="936.5" stroke="#f4f400" stroke-width="1.4"/>
<text x="256.8" y="939.5" font-size="7" fill="#262626">WOA</text>
<line x1="280.6" y1="936.5" x2="304.6" y2="936.5" stroke="#ff00ff" stroke-width="1.4"/>
<text x="306.6" y="939.5" font-size="7" fill="#262626">MPA</text>
<line x1="327" y1="936.5" x2="351" y2="936.5" stroke="#00f0f0" stroke-width="1.4"/>
<text x="353" y="939.5" font-size="7" fill="#262626">LCA</text>
<line x1="377.4" y1="936.5" x2="401.4" y2="936.5" stroke="#8a008a" stroke-width="1.4"/>
<text x="403.4" y="939.5" font-size="7" fill="#262626">SSA</text>
<line x1="433.4" y1="936.5" x2="457.4" y2="936.5" stroke="#ffa000" stroke-width="1.4"/>
<text x="459.4" y="939.5" font-size="7" fill="#262626">EMA</text>
<line x1="89.9" y1="946.3" x2="113.9" y2="946.3" stroke="#808080" stroke-width="1.4"/>
<text x="115.9" y="949.3" font-size="7" fill="#262626">ALO</text>
<line x1="137.8" y1="946.3" x2="161.8" y2="946.3" stroke="#a05510" stroke-width="1.4"/>
<text x="163.8" y="949.3" font-size="7" fill="#262626">MAO</text>
<line x1="184.9" y1="946.3" x2="208.9" y2="946.3" stroke="#7878ff" stroke-width="1.4"/>
<text x="210.9" y="949.3" font-size="7" fill="#262626">AOA</text>
<line x1="230.8" y1="946.3" x2="254.8" y2="946.3" stroke="#80f080" stroke-width="1.4"/>
<text x="256.8" y="949.3" font-size="7" fill="#262626">SSOA</text>
<line x1="280.6" y1="946.3" x2="304.6" y2="946.3" stroke="#ffb0c0" stroke-width="1.4"/>
<text x="306.6" y="949.3" font-size="7" fill="#262626">TSA</text>
<line x1="327" y1="946.3" x2="351" y2="946.3" stroke="#3e74b0" stroke-width="1.4"/>
<text x="353" y="949.3" font-size="7" fill="#262626">CFOA</text>
<line x1="377.4" y1="946.3" x2="401.4" y2="946.3" stroke="#ff0000" stroke-width="1.4"/>
<text x="403.4" y="949.3" font-size="7" fill="#262626">MShOA</text>
</svg></body></html>
